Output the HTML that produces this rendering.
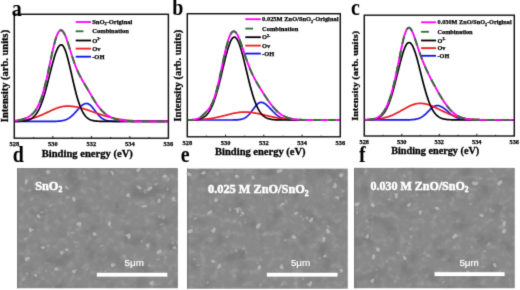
<!DOCTYPE html>
<html><head><meta charset="utf-8"><title>XPS and SEM</title>
<style>
html,body{margin:0;padding:0;background:#fff;}
body{width:520px;height:290px;overflow:hidden;}
svg{display:block;}
text{font-family:"Liberation Serif", "Times New Roman", serif;font-weight:bold;}
.th{stroke:#000;stroke-width:0.25px;}
.th2{stroke:#000;stroke-width:0.3px;}
.thw{stroke:#fff;stroke-width:0.45px;}
.sans{font-family:"Liberation Sans", Arial, sans-serif;font-weight:normal;}
</style></head><body>
<svg width="520" height="290" viewBox="0 0 520 290">
<defs><filter id="soft" x="0" y="0" width="520" height="290" filterUnits="userSpaceOnUse"><feConvolveMatrix order="3" kernelMatrix="0.0144 0.0912 0.0144 0.0912 0.5776 0.0912 0.0144 0.0912 0.0144" edgeMode="duplicate" preserveAlpha="false"/></filter></defs>
<rect width="520" height="290" fill="#fff"/>
<g filter="url(#soft)">

<g><path d="M14.8,121.40 L15.3,121.40 L15.8,121.40 L16.3,121.40 L16.8,121.40 L17.3,121.40 L17.8,121.40 L18.3,121.40 L18.8,121.40 L19.3,121.40 L19.8,121.40 L20.3,121.40 L20.8,121.40 L21.3,121.40 L21.8,121.40 L22.3,121.40 L22.8,121.40 L23.3,121.40 L23.8,121.40 L24.3,121.40 L24.8,121.40 L25.3,121.40 L25.8,121.40 L26.3,121.40 L26.8,121.40 L27.3,121.40 L27.8,121.40 L28.3,121.40 L28.8,121.40 L29.3,121.40 L29.8,121.40 L30.3,121.40 L30.8,121.40 L31.3,121.40 L31.8,121.40 L32.3,121.40 L32.8,121.40 L33.3,121.40 L33.8,121.40 L34.3,121.40 L34.8,121.40 L35.3,121.40 L35.8,121.40 L36.3,121.40 L36.8,121.40 L37.3,121.40 L37.8,121.40 L38.3,121.40 L38.8,121.40 L39.3,121.40 L39.8,121.40 L40.3,121.40 L40.8,121.40 L41.3,121.40 L41.8,121.40 L42.3,121.40 L42.8,121.40 L43.3,121.40 L43.8,121.40 L44.3,121.40 L44.8,121.40 L45.3,121.40 L45.8,121.40 L46.3,121.40 L46.8,121.40 L47.3,121.40 L47.8,121.40 L48.3,121.39 L48.8,121.39 L49.3,121.39 L49.8,121.39 L50.3,121.39 L50.8,121.38 L51.3,121.38 L51.8,121.38 L52.3,121.37 L52.8,121.36 L53.3,121.36 L53.8,121.35 L54.3,121.34 L54.8,121.33 L55.3,121.31 L55.8,121.30 L56.3,121.28 L56.8,121.26 L57.3,121.23 L57.8,121.20 L58.3,121.17 L58.8,121.13 L59.3,121.09 L59.8,121.04 L60.3,120.98 L60.8,120.92 L61.3,120.85 L61.8,120.77 L62.3,120.68 L62.8,120.58 L63.3,120.46 L63.8,120.34 L64.3,120.20 L64.8,120.04 L65.3,119.88 L65.8,119.69 L66.3,119.49 L66.8,119.27 L67.3,119.03 L67.8,118.77 L68.3,118.49 L68.8,118.19 L69.3,117.87 L69.8,117.52 L70.3,117.16 L70.8,116.77 L71.3,116.36 L71.8,115.93 L72.3,115.48 L72.8,115.01 L73.3,114.52 L73.8,114.02 L74.3,113.50 L74.8,112.96 L75.3,112.42 L75.8,111.86 L76.3,111.30 L76.8,110.73 L77.3,110.16 L77.8,109.60 L78.3,109.03 L78.8,108.48 L79.3,107.94 L79.8,107.42 L80.3,106.91 L80.8,106.43 L81.3,105.97 L81.8,105.55 L82.3,105.15 L82.8,104.80 L83.3,104.47 L83.8,104.20 L84.3,103.96 L84.8,103.77 L85.3,103.62 L85.8,103.52 L86.3,103.48 L86.8,103.48 L87.3,103.54 L87.8,103.67 L88.3,103.87 L88.8,104.12 L89.3,104.43 L89.8,104.80 L90.3,105.21 L90.8,105.68 L91.3,106.18 L91.8,106.73 L92.3,107.30 L92.8,107.91 L93.3,108.53 L93.8,109.17 L94.3,109.82 L94.8,110.47 L95.3,111.13 L95.8,111.78 L96.3,112.42 L96.8,113.05 L97.3,113.67 L97.8,114.26 L98.3,114.83 L98.8,115.38 L99.3,115.91 L99.8,116.40 L100.3,116.87 L100.8,117.31 L101.3,117.72 L101.8,118.10 L102.3,118.45 L102.8,118.77 L103.3,119.07 L103.8,119.34 L104.3,119.59 L104.8,119.81 L105.3,120.01 L105.8,120.19 L106.3,120.35 L106.8,120.49 L107.3,120.62 L107.8,120.73 L108.3,120.83 L108.8,120.91 L109.3,120.98 L109.8,121.05 L110.3,121.10 L110.8,121.15 L111.3,121.19 L111.8,121.23 L112.3,121.26 L112.8,121.28 L113.3,121.30 L113.8,121.32 L114.3,121.33 L114.8,121.35 L115.3,121.36 L115.8,121.36 L116.3,121.37 L116.8,121.38 L117.3,121.38 L117.8,121.39 L118.3,121.39 L118.8,121.39 L119.3,121.39 L119.8,121.39 L120.3,121.40 L120.8,121.40 L121.3,121.40 L121.8,121.40 L122.3,121.40 L122.8,121.40 L123.3,121.40 L123.8,121.40 L124.3,121.40 L124.8,121.40 L125.3,121.40 L125.8,121.40 L126.3,121.40 L126.8,121.40 L127.3,121.40 L127.8,121.40 L128.3,121.40 L128.8,121.40 L129.3,121.40 L129.8,121.40 L130.3,121.40 L130.8,121.40 L131.3,121.40 L131.8,121.40 L132.3,121.40 L132.8,121.40 L133.3,121.40 L133.8,121.40 L134.3,121.40 L134.8,121.40 L135.3,121.40 L135.8,121.40 L136.3,121.40 L136.8,121.40 L137.3,121.40 L137.8,121.40 L138.3,121.40 L138.8,121.40 L139.3,121.40 L139.8,121.40 L140.3,121.40 L140.8,121.40 L141.3,121.40 L141.8,121.40 L142.3,121.40 L142.8,121.40 L143.3,121.40 L143.8,121.40 L144.3,121.40 L144.8,121.40 L145.3,121.40 L145.8,121.40 L146.3,121.40 L146.8,121.40 L147.3,121.40 L147.8,121.40 L148.3,121.40 L148.8,121.40 L149.3,121.40 L149.8,121.40 L150.3,121.40 L150.8,121.40 L151.3,121.40 L151.8,121.40 L152.3,121.40 L152.8,121.40 L153.3,121.40 L153.8,121.40 L154.3,121.40 L154.8,121.40 L155.3,121.40 L155.8,121.40 L156.3,121.40 L156.8,121.40 L157.3,121.40 L157.8,121.40 L158.3,121.40 L158.8,121.40 L159.3,121.40 L159.8,121.40 L160.3,121.40 L160.8,121.40 L161.3,121.40 L161.8,121.40 L162.3,121.40 L162.8,121.40 L163.3,121.40 L163.8,121.40 L164.3,121.40 L164.8,121.40 L165.3,121.40 L165.8,121.40 L166.3,121.40 L166.8,121.40 L167.3,121.40 L167.8,121.40" fill="none" stroke="#1414e0" stroke-width="1.7"/>
<path d="M14.8,120.99 L15.3,120.97 L15.8,120.94 L16.3,120.90 L16.8,120.87 L17.3,120.83 L17.8,120.79 L18.3,120.75 L18.8,120.71 L19.3,120.67 L19.8,120.62 L20.3,120.57 L20.8,120.51 L21.3,120.46 L21.8,120.40 L22.3,120.34 L22.8,120.27 L23.3,120.21 L23.8,120.14 L24.3,120.06 L24.8,119.98 L25.3,119.90 L25.8,119.82 L26.3,119.73 L26.8,119.64 L27.3,119.54 L27.8,119.44 L28.3,119.34 L28.8,119.23 L29.3,119.12 L29.8,119.00 L30.3,118.88 L30.8,118.76 L31.3,118.63 L31.8,118.50 L32.3,118.36 L32.8,118.22 L33.3,118.07 L33.8,117.92 L34.3,117.76 L34.8,117.60 L35.3,117.44 L35.8,117.27 L36.3,117.09 L36.8,116.92 L37.3,116.73 L37.8,116.55 L38.3,116.36 L38.8,116.16 L39.3,115.96 L39.8,115.76 L40.3,115.55 L40.8,115.34 L41.3,115.13 L41.8,114.92 L42.3,114.70 L42.8,114.47 L43.3,114.25 L43.8,114.02 L44.3,113.79 L44.8,113.56 L45.3,113.33 L45.8,113.09 L46.3,112.86 L46.8,112.62 L47.3,112.38 L47.8,112.14 L48.3,111.91 L48.8,111.67 L49.3,111.43 L49.8,111.20 L50.3,110.96 L50.8,110.73 L51.3,110.50 L51.8,110.27 L52.3,110.04 L52.8,109.82 L53.3,109.60 L53.8,109.38 L54.3,109.17 L54.8,108.96 L55.3,108.76 L55.8,108.56 L56.3,108.37 L56.8,108.18 L57.3,108.00 L57.8,107.83 L58.3,107.66 L58.8,107.50 L59.3,107.35 L59.8,107.20 L60.3,107.07 L60.8,106.94 L61.3,106.82 L61.8,106.71 L62.3,106.60 L62.8,106.51 L63.3,106.43 L63.8,106.35 L64.3,106.29 L64.8,106.23 L65.3,106.18 L65.8,106.15 L66.3,106.12 L66.8,106.11 L67.3,106.10 L67.8,106.10 L68.3,106.11 L68.8,106.12 L69.3,106.14 L69.8,106.17 L70.3,106.20 L70.8,106.23 L71.3,106.27 L71.8,106.32 L72.3,106.37 L72.8,106.42 L73.3,106.49 L73.8,106.55 L74.3,106.62 L74.8,106.70 L75.3,106.78 L75.8,106.87 L76.3,106.96 L76.8,107.06 L77.3,107.16 L77.8,107.26 L78.3,107.37 L78.8,107.48 L79.3,107.60 L79.8,107.72 L80.3,107.84 L80.8,107.97 L81.3,108.10 L81.8,108.24 L82.3,108.38 L82.8,108.52 L83.3,108.67 L83.8,108.81 L84.3,108.97 L84.8,109.12 L85.3,109.27 L85.8,109.43 L86.3,109.59 L86.8,109.76 L87.3,109.92 L87.8,110.09 L88.3,110.25 L88.8,110.42 L89.3,110.59 L89.8,110.77 L90.3,110.94 L90.8,111.11 L91.3,111.29 L91.8,111.46 L92.3,111.64 L92.8,111.81 L93.3,111.99 L93.8,112.17 L94.3,112.34 L94.8,112.52 L95.3,112.69 L95.8,112.87 L96.3,113.04 L96.8,113.22 L97.3,113.39 L97.8,113.56 L98.3,113.74 L98.8,113.91 L99.3,114.08 L99.8,114.24 L100.3,114.41 L100.8,114.58 L101.3,114.74 L101.8,114.90 L102.3,115.06 L102.8,115.22 L103.3,115.38 L103.8,115.54 L104.3,115.69 L104.8,115.84 L105.3,115.99 L105.8,116.14 L106.3,116.28 L106.8,116.42 L107.3,116.56 L107.8,116.70 L108.3,116.84 L108.8,116.97 L109.3,117.10 L109.8,117.23 L110.3,117.36 L110.8,117.48 L111.3,117.61 L111.8,117.72 L112.3,117.84 L112.8,117.96 L113.3,118.07 L113.8,118.18 L114.3,118.28 L114.8,118.39 L115.3,118.49 L115.8,118.59 L116.3,118.69 L116.8,118.78 L117.3,118.87 L117.8,118.96 L118.3,119.05 L118.8,119.14 L119.3,119.22 L119.8,119.30 L120.3,119.38 L120.8,119.45 L121.3,119.53 L121.8,119.60 L122.3,119.67 L122.8,119.74 L123.3,119.80 L123.8,119.87 L124.3,119.93 L124.8,119.99 L125.3,120.04 L125.8,120.10 L126.3,120.15 L126.8,120.21 L127.3,120.26 L127.8,120.31 L128.3,120.35 L128.8,120.40 L129.3,120.44 L129.8,120.48 L130.3,120.52 L130.8,120.56 L131.3,120.60 L131.8,120.64 L132.3,120.67 L132.8,120.71 L133.3,120.74 L133.8,120.77 L134.3,120.80 L134.8,120.83 L135.3,120.85 L135.8,120.88 L136.3,120.91 L136.8,120.93 L137.3,120.95 L137.8,120.97 L138.3,121.00 L138.8,121.02 L139.3,121.04 L139.8,121.05 L140.3,121.07 L140.8,121.09 L141.3,121.10 L141.8,121.12 L142.3,121.13 L142.8,121.15 L143.3,121.16 L143.8,121.17 L144.3,121.19 L144.8,121.20 L145.3,121.21 L145.8,121.22 L146.3,121.23 L146.8,121.24 L147.3,121.25 L147.8,121.26 L148.3,121.26 L148.8,121.27 L149.3,121.28 L149.8,121.29 L150.3,121.29 L150.8,121.30 L151.3,121.31 L151.8,121.31 L152.3,121.32 L152.8,121.32 L153.3,121.33 L153.8,121.33 L154.3,121.33 L154.8,121.34 L155.3,121.34 L155.8,121.35 L156.3,121.35 L156.8,121.35 L157.3,121.36 L157.8,121.36 L158.3,121.36 L158.8,121.36 L159.3,121.37 L159.8,121.37 L160.3,121.37 L160.8,121.37 L161.3,121.37 L161.8,121.38 L162.3,121.38 L162.8,121.38 L163.3,121.38 L163.8,121.38 L164.3,121.38 L164.8,121.38 L165.3,121.38 L165.8,121.39 L166.3,121.39 L166.8,121.39 L167.3,121.39 L167.8,121.39" fill="none" stroke="#e81c1c" stroke-width="1.7"/>
<path d="M14.8,121.37 L15.3,121.37 L15.8,121.36 L16.3,121.36 L16.8,121.35 L17.3,121.34 L17.8,121.33 L18.3,121.32 L18.8,121.30 L19.3,121.29 L19.8,121.27 L20.3,121.25 L20.8,121.22 L21.3,121.19 L21.8,121.16 L22.3,121.12 L22.8,121.08 L23.3,121.03 L23.8,120.98 L24.3,120.91 L24.8,120.84 L25.3,120.76 L25.8,120.67 L26.3,120.57 L26.8,120.46 L27.3,120.33 L27.8,120.19 L28.3,120.03 L28.8,119.85 L29.3,119.65 L29.8,119.44 L30.3,119.20 L30.8,118.93 L31.3,118.64 L31.8,118.31 L32.3,117.96 L32.8,117.57 L33.3,117.15 L33.8,116.69 L34.3,116.19 L34.8,115.65 L35.3,115.07 L35.8,114.43 L36.3,113.75 L36.8,113.02 L37.3,112.23 L37.8,111.39 L38.3,110.49 L38.8,109.53 L39.3,108.51 L39.8,107.43 L40.3,106.29 L40.8,105.08 L41.3,103.81 L41.8,102.48 L42.3,101.09 L42.8,99.63 L43.3,98.11 L43.8,96.53 L44.3,94.90 L44.8,93.20 L45.3,91.46 L45.8,89.67 L46.3,87.83 L46.8,85.95 L47.3,84.04 L47.8,82.09 L48.3,80.13 L48.8,78.14 L49.3,76.14 L49.8,74.14 L50.3,72.14 L50.8,70.15 L51.3,68.18 L51.8,66.24 L52.3,64.33 L52.8,62.47 L53.3,60.65 L53.8,58.90 L54.3,57.22 L54.8,55.61 L55.3,54.09 L55.8,52.67 L56.3,51.34 L56.8,50.12 L57.3,49.01 L57.8,48.02 L58.3,47.16 L58.8,46.42 L59.3,45.82 L59.8,45.36 L60.3,45.03 L60.8,44.85 L61.3,44.80 L61.8,44.92 L62.3,45.22 L62.8,45.68 L63.3,46.32 L63.8,47.11 L64.3,48.07 L64.8,49.17 L65.3,50.42 L65.8,51.81 L66.3,53.32 L66.8,54.95 L67.3,56.69 L67.8,58.53 L68.3,60.45 L68.8,62.45 L69.3,64.51 L69.8,66.63 L70.3,68.78 L70.8,70.97 L71.3,73.17 L71.8,75.38 L72.3,77.59 L72.8,79.79 L73.3,81.97 L73.8,84.11 L74.3,86.23 L74.8,88.29 L75.3,90.31 L75.8,92.27 L76.3,94.16 L76.8,96.00 L77.3,97.76 L77.8,99.45 L78.3,101.06 L78.8,102.60 L79.3,104.06 L79.8,105.45 L80.3,106.75 L80.8,107.98 L81.3,109.14 L81.8,110.22 L82.3,111.23 L82.8,112.17 L83.3,113.04 L83.8,113.84 L84.3,114.59 L84.8,115.27 L85.3,115.90 L85.8,116.48 L86.3,117.00 L86.8,117.48 L87.3,117.91 L87.8,118.31 L88.3,118.66 L88.8,118.98 L89.3,119.27 L89.8,119.52 L90.3,119.75 L90.8,119.96 L91.3,120.14 L91.8,120.30 L92.3,120.45 L92.8,120.57 L93.3,120.68 L93.8,120.78 L94.3,120.87 L94.8,120.94 L95.3,121.01 L95.8,121.06 L96.3,121.11 L96.8,121.16 L97.3,121.19 L97.8,121.22 L98.3,121.25 L98.8,121.27 L99.3,121.29 L99.8,121.31 L100.3,121.33 L100.8,121.34 L101.3,121.35 L101.8,121.36 L102.3,121.36 L102.8,121.37 L103.3,121.38 L103.8,121.38 L104.3,121.38 L104.8,121.39 L105.3,121.39 L105.8,121.39 L106.3,121.39 L106.8,121.39 L107.3,121.40 L107.8,121.40 L108.3,121.40 L108.8,121.40 L109.3,121.40 L109.8,121.40 L110.3,121.40 L110.8,121.40 L111.3,121.40 L111.8,121.40 L112.3,121.40 L112.8,121.40 L113.3,121.40 L113.8,121.40 L114.3,121.40 L114.8,121.40 L115.3,121.40 L115.8,121.40 L116.3,121.40 L116.8,121.40 L117.3,121.40 L117.8,121.40 L118.3,121.40 L118.8,121.40 L119.3,121.40 L119.8,121.40 L120.3,121.40 L120.8,121.40 L121.3,121.40 L121.8,121.40 L122.3,121.40 L122.8,121.40 L123.3,121.40 L123.8,121.40 L124.3,121.40 L124.8,121.40 L125.3,121.40 L125.8,121.40 L126.3,121.40 L126.8,121.40 L127.3,121.40 L127.8,121.40 L128.3,121.40 L128.8,121.40 L129.3,121.40 L129.8,121.40 L130.3,121.40 L130.8,121.40 L131.3,121.40 L131.8,121.40 L132.3,121.40 L132.8,121.40 L133.3,121.40 L133.8,121.40 L134.3,121.40 L134.8,121.40 L135.3,121.40 L135.8,121.40 L136.3,121.40 L136.8,121.40 L137.3,121.40 L137.8,121.40 L138.3,121.40 L138.8,121.40 L139.3,121.40 L139.8,121.40 L140.3,121.40 L140.8,121.40 L141.3,121.40 L141.8,121.40 L142.3,121.40 L142.8,121.40 L143.3,121.40 L143.8,121.40 L144.3,121.40 L144.8,121.40 L145.3,121.40 L145.8,121.40 L146.3,121.40 L146.8,121.40 L147.3,121.40 L147.8,121.40 L148.3,121.40 L148.8,121.40 L149.3,121.40 L149.8,121.40 L150.3,121.40 L150.8,121.40 L151.3,121.40 L151.8,121.40 L152.3,121.40 L152.8,121.40 L153.3,121.40 L153.8,121.40 L154.3,121.40 L154.8,121.40 L155.3,121.40 L155.8,121.40 L156.3,121.40 L156.8,121.40 L157.3,121.40 L157.8,121.40 L158.3,121.40 L158.8,121.40 L159.3,121.40 L159.8,121.40 L160.3,121.40 L160.8,121.40 L161.3,121.40 L161.8,121.40 L162.3,121.40 L162.8,121.40 L163.3,121.40 L163.8,121.40 L164.3,121.40 L164.8,121.40 L165.3,121.40 L165.8,121.40 L166.3,121.40 L166.8,121.40 L167.3,121.40 L167.8,121.40" fill="none" stroke="#000" stroke-width="1.7"/>
<path d="M14.8,120.71 L15.3,120.65 L15.8,120.60 L16.3,120.53 L16.8,120.47 L17.3,120.40 L17.8,120.32 L18.3,120.24 L18.8,120.16 L19.3,120.06 L19.8,119.97 L20.3,119.86 L20.8,119.75 L21.3,119.64 L21.8,119.51 L22.3,119.38 L22.8,119.24 L23.3,119.09 L23.8,118.94 L24.3,118.77 L24.8,118.59 L25.3,118.40 L25.8,118.20 L26.3,117.99 L26.8,117.76 L27.3,117.52 L27.8,117.26 L28.3,116.99 L28.8,116.70 L29.3,116.40 L29.8,116.07 L30.3,115.72 L30.8,115.34 L31.3,114.95 L31.8,114.52 L32.3,114.07 L32.8,113.59 L33.3,113.07 L33.8,112.52 L34.3,111.93 L34.8,111.30 L35.3,110.63 L35.8,109.92 L36.3,109.15 L36.8,108.34 L37.3,107.47 L37.8,106.54 L38.3,105.55 L38.8,104.50 L39.3,103.39 L39.8,102.21 L40.3,100.96 L40.8,99.63 L41.3,98.24 L41.8,96.76 L42.3,95.22 L42.8,93.59 L43.3,91.89 L43.8,90.11 L44.3,88.26 L44.8,86.34 L45.3,84.35 L45.8,82.29 L46.3,80.17 L46.8,77.99 L47.3,75.76 L47.8,73.48 L48.3,71.17 L48.8,68.82 L49.3,66.46 L49.8,64.08 L50.3,61.70 L50.8,59.34 L51.3,56.99 L51.8,54.67 L52.3,52.40 L52.8,50.18 L53.3,48.03 L53.8,45.95 L54.3,43.96 L54.8,42.08 L55.3,40.30 L55.8,38.65 L56.3,37.12 L56.8,35.73 L57.3,34.49 L57.8,33.40 L58.3,32.46 L58.8,31.69 L59.3,31.08 L59.8,30.63 L60.3,30.34 L60.8,30.22 L61.3,30.26 L61.8,30.46 L62.3,30.81 L62.8,31.31 L63.3,31.95 L63.8,32.72 L64.3,33.62 L64.8,34.63 L65.3,35.74 L65.8,36.96 L66.3,38.26 L66.8,39.63 L67.3,41.07 L67.8,42.56 L68.3,44.10 L68.8,45.66 L69.3,47.25 L69.8,48.86 L70.3,50.47 L70.8,52.08 L71.3,53.68 L71.8,55.26 L72.3,56.82 L72.8,58.35 L73.3,59.84 L73.8,61.30 L74.3,62.72 L74.8,64.10 L75.3,65.44 L75.8,66.73 L76.3,67.98 L76.8,69.19 L77.3,70.35 L77.8,71.47 L78.3,72.56 L78.8,73.60 L79.3,74.62 L79.8,75.60 L80.3,76.56 L80.8,77.49 L81.3,78.40 L81.8,79.29 L82.3,80.16 L82.8,81.03 L83.3,81.88 L83.8,82.73 L84.3,83.57 L84.8,84.41 L85.3,85.25 L85.8,86.09 L86.3,86.94 L86.8,87.78 L87.3,88.63 L87.8,89.48 L88.3,90.34 L88.8,91.19 L89.3,92.05 L89.8,92.91 L90.3,93.77 L90.8,94.63 L91.3,95.49 L91.8,96.34 L92.3,97.19 L92.8,98.03 L93.3,98.86 L93.8,99.68 L94.3,100.48 L94.8,101.28 L95.3,102.06 L95.8,102.83 L96.3,103.58 L96.8,104.31 L97.3,105.02 L97.8,105.71 L98.3,106.39 L98.8,107.04 L99.3,107.68 L99.8,108.29 L100.3,108.89 L100.8,109.46 L101.3,110.01 L101.8,110.55 L102.3,111.06 L102.8,111.56 L103.3,112.03 L103.8,112.49 L104.3,112.93 L104.8,113.35 L105.3,113.75 L105.8,114.14 L106.3,114.51 L106.8,114.87 L107.3,115.21 L107.8,115.54 L108.3,115.85 L108.8,116.15 L109.3,116.43 L109.8,116.70 L110.3,116.96 L110.8,117.21 L111.3,117.45 L111.8,117.67 L112.3,117.89 L112.8,118.09 L113.3,118.29 L113.8,118.47 L114.3,118.65 L114.8,118.82 L115.3,118.97 L115.8,119.13 L116.3,119.27 L116.8,119.40 L117.3,119.53 L117.8,119.65 L118.3,119.76 L118.8,119.87 L119.3,119.97 L119.8,120.07 L120.3,120.16 L120.8,120.24 L121.3,120.32 L121.8,120.40 L122.3,120.47 L122.8,120.53 L123.3,120.60 L123.8,120.65 L124.3,120.71 L124.8,120.76 L125.3,120.81 L125.8,120.85 L126.3,120.89 L126.8,120.93 L127.3,120.97 L127.8,121.00 L128.3,121.03 L128.8,121.06 L129.3,121.09 L129.8,121.11 L130.3,121.14 L130.8,121.16 L131.3,121.18 L131.8,121.20 L132.3,121.21 L132.8,121.23 L133.3,121.24 L133.8,121.26 L134.3,121.27 L134.8,121.28 L135.3,121.29 L135.8,121.30 L136.3,121.31 L136.8,121.32 L137.3,121.32 L137.8,121.33 L138.3,121.34 L138.8,121.34 L139.3,121.35 L139.8,121.35 L140.3,121.36 L140.8,121.36 L141.3,121.36 L141.8,121.37 L142.3,121.37 L142.8,121.37 L143.3,121.38 L143.8,121.38 L144.3,121.38 L144.8,121.38 L145.3,121.38 L145.8,121.39 L146.3,121.39 L146.8,121.39 L147.3,121.39 L147.8,121.39 L148.3,121.39 L148.8,121.39 L149.3,121.39 L149.8,121.39 L150.3,121.39 L150.8,121.40 L151.3,121.40 L151.8,121.40 L152.3,121.40 L152.8,121.40 L153.3,121.40 L153.8,121.40 L154.3,121.40 L154.8,121.40 L155.3,121.40 L155.8,121.40 L156.3,121.40 L156.8,121.40 L157.3,121.40 L157.8,121.40 L158.3,121.40 L158.8,121.40 L159.3,121.40 L159.8,121.40 L160.3,121.40 L160.8,121.40 L161.3,121.40 L161.8,121.40 L162.3,121.40 L162.8,121.40 L163.3,121.40 L163.8,121.40 L164.3,121.40 L164.8,121.40 L165.3,121.40 L165.8,121.40 L166.3,121.40 L166.8,121.40 L167.3,121.40 L167.8,121.40" fill="none" stroke="#ff00ff" stroke-width="1.9"/>
<path d="M14.8,120.71 L15.3,120.65 L15.8,120.60 L16.3,120.53 L16.8,120.47 L17.3,120.40 L17.8,120.32 L18.3,120.24 L18.8,120.16 L19.3,120.06 L19.8,119.97 L20.3,119.86 L20.8,119.75 L21.3,119.64 L21.8,119.51 L22.3,119.38 L22.8,119.24 L23.3,119.09 L23.8,118.94 L24.3,118.77 L24.8,118.59 L25.3,118.40 L25.8,118.20 L26.3,117.99 L26.8,117.76 L27.3,117.52 L27.8,117.26 L28.3,116.99 L28.8,116.70 L29.3,116.40 L29.8,116.07 L30.3,115.72 L30.8,115.34 L31.3,114.95 L31.8,114.52 L32.3,114.07 L32.8,113.59 L33.3,113.07 L33.8,112.52 L34.3,111.93 L34.8,111.30 L35.3,110.63 L35.8,109.92 L36.3,109.15 L36.8,108.34 L37.3,107.47 L37.8,106.54 L38.3,105.55 L38.8,104.50 L39.3,103.39 L39.8,102.21 L40.3,100.96 L40.8,99.63 L41.3,98.24 L41.8,96.76 L42.3,95.22 L42.8,93.59 L43.3,91.89 L43.8,90.11 L44.3,88.26 L44.8,86.34 L45.3,84.35 L45.8,82.29 L46.3,80.17 L46.8,77.99 L47.3,75.76 L47.8,73.48 L48.3,71.17 L48.8,68.82 L49.3,66.46 L49.8,64.08 L50.3,61.70 L50.8,59.34 L51.3,56.99 L51.8,54.67 L52.3,52.40 L52.8,50.18 L53.3,48.03 L53.8,45.95 L54.3,43.96 L54.8,42.08 L55.3,40.30 L55.8,38.65 L56.3,37.12 L56.8,35.73 L57.3,34.49 L57.8,33.40 L58.3,32.46 L58.8,31.69 L59.3,31.08 L59.8,30.63 L60.3,30.34 L60.8,30.22 L61.3,30.26 L61.8,30.46 L62.3,30.81 L62.8,31.31 L63.3,31.95 L63.8,32.72 L64.3,33.62 L64.8,34.63 L65.3,35.74 L65.8,36.96 L66.3,38.26 L66.8,39.63 L67.3,41.07 L67.8,42.56 L68.3,44.10 L68.8,45.66 L69.3,47.25 L69.8,48.86 L70.3,50.47 L70.8,52.08 L71.3,53.68 L71.8,55.26 L72.3,56.82 L72.8,58.35 L73.3,59.84 L73.8,61.30 L74.3,62.72 L74.8,64.10 L75.3,65.44 L75.8,66.73 L76.3,67.98 L76.8,69.19 L77.3,70.35 L77.8,71.47 L78.3,72.56 L78.8,73.60 L79.3,74.62 L79.8,75.60 L80.3,76.56 L80.8,77.49 L81.3,78.40 L81.8,79.29 L82.3,80.16 L82.8,81.03 L83.3,81.88 L83.8,82.73 L84.3,83.57 L84.8,84.41 L85.3,85.25 L85.8,86.09 L86.3,86.94 L86.8,87.78 L87.3,88.63 L87.8,89.48 L88.3,90.34 L88.8,91.19 L89.3,92.05 L89.8,92.91 L90.3,93.77 L90.8,94.63 L91.3,95.49 L91.8,96.34 L92.3,97.19 L92.8,98.03 L93.3,98.86 L93.8,99.68 L94.3,100.48 L94.8,101.28 L95.3,102.06 L95.8,102.83 L96.3,103.58 L96.8,104.31 L97.3,105.02 L97.8,105.71 L98.3,106.39 L98.8,107.04 L99.3,107.68 L99.8,108.29 L100.3,108.89 L100.8,109.46 L101.3,110.01 L101.8,110.55 L102.3,111.06 L102.8,111.56 L103.3,112.03 L103.8,112.49 L104.3,112.93 L104.8,113.35 L105.3,113.75 L105.8,114.14 L106.3,114.51 L106.8,114.87 L107.3,115.21 L107.8,115.54 L108.3,115.85 L108.8,116.15 L109.3,116.43 L109.8,116.70 L110.3,116.96 L110.8,117.21 L111.3,117.45 L111.8,117.67 L112.3,117.89 L112.8,118.09 L113.3,118.29 L113.8,118.47 L114.3,118.65 L114.8,118.82 L115.3,118.97 L115.8,119.13 L116.3,119.27 L116.8,119.40 L117.3,119.53 L117.8,119.65 L118.3,119.76 L118.8,119.87 L119.3,119.97 L119.8,120.07 L120.3,120.16 L120.8,120.24 L121.3,120.32 L121.8,120.40 L122.3,120.47 L122.8,120.53 L123.3,120.60 L123.8,120.65 L124.3,120.71 L124.8,120.76 L125.3,120.81 L125.8,120.85 L126.3,120.89 L126.8,120.93 L127.3,120.97 L127.8,121.00 L128.3,121.03 L128.8,121.06 L129.3,121.09 L129.8,121.11 L130.3,121.14 L130.8,121.16 L131.3,121.18 L131.8,121.20 L132.3,121.21 L132.8,121.23 L133.3,121.24 L133.8,121.26 L134.3,121.27 L134.8,121.28 L135.3,121.29 L135.8,121.30 L136.3,121.31 L136.8,121.32 L137.3,121.32 L137.8,121.33 L138.3,121.34 L138.8,121.34 L139.3,121.35 L139.8,121.35 L140.3,121.36 L140.8,121.36 L141.3,121.36 L141.8,121.37 L142.3,121.37 L142.8,121.37 L143.3,121.38 L143.8,121.38 L144.3,121.38 L144.8,121.38 L145.3,121.38 L145.8,121.39 L146.3,121.39 L146.8,121.39 L147.3,121.39 L147.8,121.39 L148.3,121.39 L148.8,121.39 L149.3,121.39 L149.8,121.39 L150.3,121.39 L150.8,121.40 L151.3,121.40 L151.8,121.40 L152.3,121.40 L152.8,121.40 L153.3,121.40 L153.8,121.40 L154.3,121.40 L154.8,121.40 L155.3,121.40 L155.8,121.40 L156.3,121.40 L156.8,121.40 L157.3,121.40 L157.8,121.40 L158.3,121.40 L158.8,121.40 L159.3,121.40 L159.8,121.40 L160.3,121.40 L160.8,121.40 L161.3,121.40 L161.8,121.40 L162.3,121.40 L162.8,121.40 L163.3,121.40 L163.8,121.40 L164.3,121.40 L164.8,121.40 L165.3,121.40 L165.8,121.40 L166.3,121.40 L166.8,121.40 L167.3,121.40 L167.8,121.40" fill="none" stroke="#306c30" stroke-width="1.9" stroke-dasharray="8.5 6.5" stroke-dashoffset="12.5"/>
<rect x="14.3" y="14.3" width="154.1" height="123.89999999999999" fill="none" stroke="#111" stroke-width="1.4"/>
<line x1="14.30" y1="138.2" x2="14.30" y2="136.0" stroke="#222" stroke-width="1"/>
<text class="th" x="14.30" y="146" font-size="6.4" text-anchor="middle">528</text>
<line x1="33.56" y1="138.2" x2="33.56" y2="137.0" stroke="#222" stroke-width="1"/>
<line x1="52.83" y1="138.2" x2="52.83" y2="136.0" stroke="#222" stroke-width="1"/>
<text class="th" x="52.83" y="146" font-size="6.4" text-anchor="middle">530</text>
<line x1="72.09" y1="138.2" x2="72.09" y2="137.0" stroke="#222" stroke-width="1"/>
<line x1="91.35" y1="138.2" x2="91.35" y2="136.0" stroke="#222" stroke-width="1"/>
<text class="th" x="91.35" y="146" font-size="6.4" text-anchor="middle">532</text>
<line x1="110.61" y1="138.2" x2="110.61" y2="137.0" stroke="#222" stroke-width="1"/>
<line x1="129.88" y1="138.2" x2="129.88" y2="136.0" stroke="#222" stroke-width="1"/>
<text class="th" x="129.88" y="146" font-size="6.4" text-anchor="middle">534</text>
<line x1="149.14" y1="138.2" x2="149.14" y2="137.0" stroke="#222" stroke-width="1"/>
<line x1="168.40" y1="138.2" x2="168.40" y2="136.0" stroke="#222" stroke-width="1"/>
<text class="th" x="168.40" y="146" font-size="6.4" text-anchor="middle">536</text>
<text class="th2" transform="translate(41.7,156.5) scale(1,0.92)" font-size="10.6">Binding energy (eV)</text>
<text class="th2" transform="translate(7.6,76.0) rotate(-90) scale(1,0.9)" font-size="10.5" text-anchor="middle">Intensity (arb. units)</text>
<text transform="translate(11.8,15.5) scale(0.85,1)" font-size="23.5">a</text>
<line x1="75.7" y1="22.0" x2="91" y2="22.0" stroke="#ff00ff" stroke-width="1.8"/>
<line x1="75.7" y1="31.3" x2="83.5" y2="31.3" stroke="#2f6e2f" stroke-width="1.8"/>
<line x1="75.7" y1="40.5" x2="91" y2="40.5" stroke="#000" stroke-width="1.8"/>
<line x1="75.7" y1="48.6" x2="91" y2="48.6" stroke="#ee1a1a" stroke-width="1.8"/>
<line x1="75.7" y1="56.7" x2="91" y2="56.7" stroke="#1010ee" stroke-width="1.8"/>
<text class="th" x="92.2" y="24.16" font-size="6.55">SnO<tspan font-size="4.06" dy="1.2">2</tspan><tspan dy="-1.2">-Original</tspan></text>
<text class="th" x="92.2" y="33.46" font-size="6.55">Combination</text>
<text class="th" x="92.2" y="42.66" font-size="6.55">O<tspan font-size="4.06" dy="-2.2">2-</tspan></text>
<text class="th" x="92.2" y="50.76" font-size="6.55">Ov</text>
<text class="th" x="92.2" y="58.86" font-size="6.55">-OH</text></g>
<g><path d="M187.8,120.00 L188.3,120.00 L188.8,120.00 L189.3,120.00 L189.8,120.00 L190.3,120.00 L190.8,120.00 L191.3,120.00 L191.8,120.00 L192.3,120.00 L192.8,120.00 L193.3,120.00 L193.8,120.00 L194.3,120.00 L194.8,120.00 L195.3,120.00 L195.8,120.00 L196.3,120.00 L196.8,120.00 L197.3,120.00 L197.8,120.00 L198.3,120.00 L198.8,120.00 L199.3,120.00 L199.8,120.00 L200.3,120.00 L200.8,120.00 L201.3,120.00 L201.8,120.00 L202.3,120.00 L202.8,120.00 L203.3,120.00 L203.8,120.00 L204.3,120.00 L204.8,120.00 L205.3,120.00 L205.8,120.00 L206.3,120.00 L206.8,120.00 L207.3,120.00 L207.8,120.00 L208.3,120.00 L208.8,120.00 L209.3,120.00 L209.8,120.00 L210.3,120.00 L210.8,120.00 L211.3,120.00 L211.8,120.00 L212.3,120.00 L212.8,120.00 L213.3,120.00 L213.8,120.00 L214.3,120.00 L214.8,120.00 L215.3,120.00 L215.8,120.00 L216.3,120.00 L216.8,120.00 L217.3,120.00 L217.8,120.00 L218.3,120.00 L218.8,120.00 L219.3,120.00 L219.8,120.00 L220.3,120.00 L220.8,120.00 L221.3,120.00 L221.8,120.00 L222.3,120.00 L222.8,120.00 L223.3,120.00 L223.8,120.00 L224.3,120.00 L224.8,120.00 L225.3,120.00 L225.8,120.00 L226.3,120.00 L226.8,120.00 L227.3,120.00 L227.8,120.00 L228.3,120.00 L228.8,120.00 L229.3,120.00 L229.8,119.99 L230.3,119.99 L230.8,119.99 L231.3,119.99 L231.8,119.98 L232.3,119.98 L232.8,119.97 L233.3,119.97 L233.8,119.96 L234.3,119.95 L234.8,119.93 L235.3,119.92 L235.8,119.90 L236.3,119.88 L236.8,119.85 L237.3,119.82 L237.8,119.78 L238.3,119.74 L238.8,119.68 L239.3,119.62 L239.8,119.55 L240.3,119.46 L240.8,119.37 L241.3,119.25 L241.8,119.13 L242.3,118.98 L242.8,118.81 L243.3,118.62 L243.8,118.41 L244.3,118.18 L244.8,117.92 L245.3,117.63 L245.8,117.31 L246.3,116.96 L246.8,116.58 L247.3,116.16 L247.8,115.72 L248.3,115.24 L248.8,114.73 L249.3,114.19 L249.8,113.62 L250.3,113.03 L250.8,112.41 L251.3,111.77 L251.8,111.11 L252.3,110.43 L252.8,109.75 L253.3,109.07 L253.8,108.39 L254.3,107.71 L254.8,107.05 L255.3,106.41 L255.8,105.80 L256.3,105.21 L256.8,104.67 L257.3,104.18 L257.8,103.73 L258.3,103.34 L258.8,103.01 L259.3,102.75 L259.8,102.55 L260.3,102.42 L260.8,102.37 L261.3,102.37 L261.8,102.43 L262.3,102.52 L262.8,102.66 L263.3,102.84 L263.8,103.06 L264.3,103.32 L264.8,103.62 L265.3,103.95 L265.8,104.31 L266.3,104.70 L266.8,105.12 L267.3,105.57 L267.8,106.03 L268.3,106.52 L268.8,107.01 L269.3,107.53 L269.8,108.05 L270.3,108.57 L270.8,109.11 L271.3,109.64 L271.8,110.17 L272.3,110.69 L272.8,111.21 L273.3,111.73 L273.8,112.23 L274.3,112.72 L274.8,113.19 L275.3,113.65 L275.8,114.09 L276.3,114.52 L276.8,114.93 L277.3,115.32 L277.8,115.69 L278.3,116.04 L278.8,116.37 L279.3,116.68 L279.8,116.97 L280.3,117.24 L280.8,117.50 L281.3,117.74 L281.8,117.96 L282.3,118.16 L282.8,118.35 L283.3,118.52 L283.8,118.67 L284.3,118.82 L284.8,118.95 L285.3,119.07 L285.8,119.17 L286.3,119.27 L286.8,119.36 L287.3,119.44 L287.8,119.50 L288.3,119.57 L288.8,119.62 L289.3,119.67 L289.8,119.71 L290.3,119.75 L290.8,119.79 L291.3,119.82 L291.8,119.84 L292.3,119.86 L292.8,119.88 L293.3,119.90 L293.8,119.92 L294.3,119.93 L294.8,119.94 L295.3,119.95 L295.8,119.96 L296.3,119.96 L296.8,119.97 L297.3,119.97 L297.8,119.98 L298.3,119.98 L298.8,119.99 L299.3,119.99 L299.8,119.99 L300.3,119.99 L300.8,119.99 L301.3,119.99 L301.8,120.00 L302.3,120.00 L302.8,120.00 L303.3,120.00 L303.8,120.00 L304.3,120.00 L304.8,120.00 L305.3,120.00 L305.8,120.00 L306.3,120.00 L306.8,120.00 L307.3,120.00 L307.8,120.00 L308.3,120.00 L308.8,120.00 L309.3,120.00 L309.8,120.00 L310.3,120.00 L310.8,120.00 L311.3,120.00 L311.8,120.00 L312.3,120.00 L312.8,120.00 L313.3,120.00 L313.8,120.00 L314.3,120.00 L314.8,120.00 L315.3,120.00 L315.8,120.00 L316.3,120.00 L316.8,120.00 L317.3,120.00 L317.8,120.00 L318.3,120.00 L318.8,120.00 L319.3,120.00 L319.8,120.00 L320.3,120.00 L320.8,120.00 L321.3,120.00 L321.8,120.00 L322.3,120.00 L322.8,120.00 L323.3,120.00 L323.8,120.00 L324.3,120.00 L324.8,120.00 L325.3,120.00 L325.8,120.00 L326.3,120.00 L326.8,120.00 L327.3,120.00 L327.8,120.00 L328.3,120.00 L328.8,120.00 L329.3,120.00 L329.8,120.00 L330.3,120.00 L330.8,120.00 L331.3,120.00 L331.8,120.00 L332.3,120.00 L332.8,120.00 L333.3,120.00 L333.8,120.00 L334.3,120.00 L334.8,120.00 L335.3,120.00 L335.8,120.00 L336.3,120.00 L336.8,120.00 L337.3,120.00 L337.8,120.00 L338.3,120.00 L338.8,120.00 L339.3,120.00 L339.8,120.00" fill="none" stroke="#1414e0" stroke-width="1.7"/>
<path d="M187.8,119.92 L188.3,119.92 L188.8,119.91 L189.3,119.90 L189.8,119.90 L190.3,119.89 L190.8,119.88 L191.3,119.87 L191.8,119.86 L192.3,119.85 L192.8,119.83 L193.3,119.82 L193.8,119.81 L194.3,119.79 L194.8,119.78 L195.3,119.76 L195.8,119.74 L196.3,119.73 L196.8,119.71 L197.3,119.69 L197.8,119.66 L198.3,119.64 L198.8,119.62 L199.3,119.59 L199.8,119.56 L200.3,119.53 L200.8,119.50 L201.3,119.47 L201.8,119.44 L202.3,119.40 L202.8,119.36 L203.3,119.32 L203.8,119.28 L204.3,119.24 L204.8,119.19 L205.3,119.15 L205.8,119.10 L206.3,119.04 L206.8,118.99 L207.3,118.93 L207.8,118.88 L208.3,118.81 L208.8,118.75 L209.3,118.69 L209.8,118.62 L210.3,118.55 L210.8,118.47 L211.3,118.40 L211.8,118.32 L212.3,118.24 L212.8,118.15 L213.3,118.07 L213.8,117.98 L214.3,117.89 L214.8,117.80 L215.3,117.70 L215.8,117.60 L216.3,117.50 L216.8,117.40 L217.3,117.29 L217.8,117.18 L218.3,117.07 L218.8,116.96 L219.3,116.85 L219.8,116.73 L220.3,116.61 L220.8,116.49 L221.3,116.37 L221.8,116.25 L222.3,116.13 L222.8,116.00 L223.3,115.87 L223.8,115.75 L224.3,115.62 L224.8,115.49 L225.3,115.36 L225.8,115.23 L226.3,115.10 L226.8,114.97 L227.3,114.84 L227.8,114.71 L228.3,114.59 L228.8,114.46 L229.3,114.33 L229.8,114.21 L230.3,114.09 L230.8,113.97 L231.3,113.85 L231.8,113.73 L232.3,113.61 L232.8,113.50 L233.3,113.39 L233.8,113.29 L234.3,113.18 L234.8,113.08 L235.3,112.99 L235.8,112.89 L236.3,112.81 L236.8,112.72 L237.3,112.64 L237.8,112.57 L238.3,112.50 L238.8,112.43 L239.3,112.37 L239.8,112.31 L240.3,112.26 L240.8,112.22 L241.3,112.18 L241.8,112.14 L242.3,112.11 L242.8,112.09 L243.3,112.07 L243.8,112.06 L244.3,112.05 L244.8,112.05 L245.3,112.05 L245.8,112.06 L246.3,112.08 L246.8,112.09 L247.3,112.12 L247.8,112.14 L248.3,112.18 L248.8,112.21 L249.3,112.26 L249.8,112.30 L250.3,112.35 L250.8,112.41 L251.3,112.46 L251.8,112.53 L252.3,112.59 L252.8,112.66 L253.3,112.74 L253.8,112.82 L254.3,112.90 L254.8,112.98 L255.3,113.07 L255.8,113.16 L256.3,113.25 L256.8,113.35 L257.3,113.45 L257.8,113.55 L258.3,113.66 L258.8,113.76 L259.3,113.87 L259.8,113.98 L260.3,114.09 L260.8,114.20 L261.3,114.32 L261.8,114.43 L262.3,114.55 L262.8,114.66 L263.3,114.78 L263.8,114.90 L264.3,115.02 L264.8,115.14 L265.3,115.25 L265.8,115.37 L266.3,115.49 L266.8,115.61 L267.3,115.73 L267.8,115.84 L268.3,115.96 L268.8,116.07 L269.3,116.19 L269.8,116.30 L270.3,116.41 L270.8,116.52 L271.3,116.63 L271.8,116.74 L272.3,116.85 L272.8,116.95 L273.3,117.05 L273.8,117.15 L274.3,117.25 L274.8,117.35 L275.3,117.45 L275.8,117.54 L276.3,117.63 L276.8,117.72 L277.3,117.81 L277.8,117.89 L278.3,117.98 L278.8,118.06 L279.3,118.14 L279.8,118.22 L280.3,118.29 L280.8,118.36 L281.3,118.43 L281.8,118.50 L282.3,118.57 L282.8,118.63 L283.3,118.69 L283.8,118.75 L284.3,118.81 L284.8,118.87 L285.3,118.92 L285.8,118.97 L286.3,119.02 L286.8,119.07 L287.3,119.12 L287.8,119.16 L288.3,119.21 L288.8,119.25 L289.3,119.29 L289.8,119.32 L290.3,119.36 L290.8,119.39 L291.3,119.43 L291.8,119.46 L292.3,119.49 L292.8,119.52 L293.3,119.55 L293.8,119.57 L294.3,119.60 L294.8,119.62 L295.3,119.64 L295.8,119.66 L296.3,119.68 L296.8,119.70 L297.3,119.72 L297.8,119.74 L298.3,119.75 L298.8,119.77 L299.3,119.78 L299.8,119.80 L300.3,119.81 L300.8,119.82 L301.3,119.84 L301.8,119.85 L302.3,119.86 L302.8,119.87 L303.3,119.88 L303.8,119.88 L304.3,119.89 L304.8,119.90 L305.3,119.91 L305.8,119.91 L306.3,119.92 L306.8,119.93 L307.3,119.93 L307.8,119.94 L308.3,119.94 L308.8,119.95 L309.3,119.95 L309.8,119.95 L310.3,119.96 L310.8,119.96 L311.3,119.96 L311.8,119.97 L312.3,119.97 L312.8,119.97 L313.3,119.97 L313.8,119.98 L314.3,119.98 L314.8,119.98 L315.3,119.98 L315.8,119.98 L316.3,119.98 L316.8,119.99 L317.3,119.99 L317.8,119.99 L318.3,119.99 L318.8,119.99 L319.3,119.99 L319.8,119.99 L320.3,119.99 L320.8,119.99 L321.3,119.99 L321.8,119.99 L322.3,119.99 L322.8,120.00 L323.3,120.00 L323.8,120.00 L324.3,120.00 L324.8,120.00 L325.3,120.00 L325.8,120.00 L326.3,120.00 L326.8,120.00 L327.3,120.00 L327.8,120.00 L328.3,120.00 L328.8,120.00 L329.3,120.00 L329.8,120.00 L330.3,120.00 L330.8,120.00 L331.3,120.00 L331.8,120.00 L332.3,120.00 L332.8,120.00 L333.3,120.00 L333.8,120.00 L334.3,120.00 L334.8,120.00 L335.3,120.00 L335.8,120.00 L336.3,120.00 L336.8,120.00 L337.3,120.00 L337.8,120.00 L338.3,120.00 L338.8,120.00 L339.3,120.00 L339.8,120.00" fill="none" stroke="#e81c1c" stroke-width="1.7"/>
<path d="M187.8,119.97 L188.3,119.96 L188.8,119.95 L189.3,119.94 L189.8,119.93 L190.3,119.92 L190.8,119.91 L191.3,119.89 L191.8,119.88 L192.3,119.86 L192.8,119.83 L193.3,119.80 L193.8,119.77 L194.3,119.74 L194.8,119.70 L195.3,119.65 L195.8,119.60 L196.3,119.54 L196.8,119.48 L197.3,119.40 L197.8,119.32 L198.3,119.22 L198.8,119.11 L199.3,119.00 L199.8,118.86 L200.3,118.71 L200.8,118.55 L201.3,118.36 L201.8,118.16 L202.3,117.93 L202.8,117.68 L203.3,117.40 L203.8,117.10 L204.3,116.77 L204.8,116.40 L205.3,116.00 L205.8,115.57 L206.3,115.10 L206.8,114.58 L207.3,114.02 L207.8,113.42 L208.3,112.77 L208.8,112.07 L209.3,111.31 L209.8,110.50 L210.3,109.64 L210.8,108.71 L211.3,107.73 L211.8,106.68 L212.3,105.57 L212.8,104.39 L213.3,103.15 L213.8,101.85 L214.3,100.47 L214.8,99.04 L215.3,97.53 L215.8,95.96 L216.3,94.33 L216.8,92.63 L217.3,90.88 L217.8,89.07 L218.3,87.20 L218.8,85.29 L219.3,83.33 L219.8,81.32 L220.3,79.28 L220.8,77.22 L221.3,75.12 L221.8,73.01 L222.3,70.88 L222.8,68.76 L223.3,66.63 L223.8,64.52 L224.3,62.43 L224.8,60.36 L225.3,58.33 L225.8,56.35 L226.3,54.42 L226.8,52.55 L227.3,50.76 L227.8,49.04 L228.3,47.42 L228.8,45.88 L229.3,44.45 L229.8,43.14 L230.3,41.93 L230.8,40.86 L231.3,39.91 L231.8,39.09 L232.3,38.41 L232.8,37.88 L233.3,37.49 L233.8,37.24 L234.3,37.15 L234.8,37.20 L235.3,37.40 L235.8,37.74 L236.3,38.23 L236.8,38.86 L237.3,39.63 L237.8,40.53 L238.3,41.56 L238.8,42.71 L239.3,43.99 L239.8,45.37 L240.3,46.86 L240.8,48.45 L241.3,50.13 L241.8,51.89 L242.3,53.72 L242.8,55.62 L243.3,57.57 L243.8,59.57 L244.3,61.62 L244.8,63.69 L245.3,65.78 L245.8,67.90 L246.3,70.01 L246.8,72.13 L247.3,74.24 L247.8,76.33 L248.3,78.40 L248.8,80.44 L249.3,82.45 L249.8,84.43 L250.3,86.35 L250.8,88.23 L251.3,90.06 L251.8,91.83 L252.3,93.55 L252.8,95.20 L253.3,96.79 L253.8,98.32 L254.3,99.79 L254.8,101.18 L255.3,102.52 L255.8,103.78 L256.3,104.99 L256.8,106.12 L257.3,107.20 L257.8,108.21 L258.3,109.16 L258.8,110.05 L259.3,110.89 L259.8,111.67 L260.3,112.39 L260.8,113.07 L261.3,113.70 L261.8,114.28 L262.3,114.81 L262.8,115.31 L263.3,115.76 L263.8,116.18 L264.3,116.56 L264.8,116.91 L265.3,117.23 L265.8,117.52 L266.3,117.78 L266.8,118.02 L267.3,118.24 L267.8,118.44 L268.3,118.61 L268.8,118.77 L269.3,118.91 L269.8,119.04 L270.3,119.16 L270.8,119.26 L271.3,119.35 L271.8,119.43 L272.3,119.50 L272.8,119.56 L273.3,119.62 L273.8,119.67 L274.3,119.71 L274.8,119.75 L275.3,119.78 L275.8,119.81 L276.3,119.84 L276.8,119.86 L277.3,119.88 L277.8,119.90 L278.3,119.91 L278.8,119.93 L279.3,119.94 L279.8,119.95 L280.3,119.95 L280.8,119.96 L281.3,119.97 L281.8,119.97 L282.3,119.98 L282.8,119.98 L283.3,119.98 L283.8,119.99 L284.3,119.99 L284.8,119.99 L285.3,119.99 L285.8,119.99 L286.3,119.99 L286.8,120.00 L287.3,120.00 L287.8,120.00 L288.3,120.00 L288.8,120.00 L289.3,120.00 L289.8,120.00 L290.3,120.00 L290.8,120.00 L291.3,120.00 L291.8,120.00 L292.3,120.00 L292.8,120.00 L293.3,120.00 L293.8,120.00 L294.3,120.00 L294.8,120.00 L295.3,120.00 L295.8,120.00 L296.3,120.00 L296.8,120.00 L297.3,120.00 L297.8,120.00 L298.3,120.00 L298.8,120.00 L299.3,120.00 L299.8,120.00 L300.3,120.00 L300.8,120.00 L301.3,120.00 L301.8,120.00 L302.3,120.00 L302.8,120.00 L303.3,120.00 L303.8,120.00 L304.3,120.00 L304.8,120.00 L305.3,120.00 L305.8,120.00 L306.3,120.00 L306.8,120.00 L307.3,120.00 L307.8,120.00 L308.3,120.00 L308.8,120.00 L309.3,120.00 L309.8,120.00 L310.3,120.00 L310.8,120.00 L311.3,120.00 L311.8,120.00 L312.3,120.00 L312.8,120.00 L313.3,120.00 L313.8,120.00 L314.3,120.00 L314.8,120.00 L315.3,120.00 L315.8,120.00 L316.3,120.00 L316.8,120.00 L317.3,120.00 L317.8,120.00 L318.3,120.00 L318.8,120.00 L319.3,120.00 L319.8,120.00 L320.3,120.00 L320.8,120.00 L321.3,120.00 L321.8,120.00 L322.3,120.00 L322.8,120.00 L323.3,120.00 L323.8,120.00 L324.3,120.00 L324.8,120.00 L325.3,120.00 L325.8,120.00 L326.3,120.00 L326.8,120.00 L327.3,120.00 L327.8,120.00 L328.3,120.00 L328.8,120.00 L329.3,120.00 L329.8,120.00 L330.3,120.00 L330.8,120.00 L331.3,120.00 L331.8,120.00 L332.3,120.00 L332.8,120.00 L333.3,120.00 L333.8,120.00 L334.3,120.00 L334.8,120.00 L335.3,120.00 L335.8,120.00 L336.3,120.00 L336.8,120.00 L337.3,120.00 L337.8,120.00 L338.3,120.00 L338.8,120.00 L339.3,120.00 L339.8,120.00" fill="none" stroke="#000" stroke-width="1.7"/>
<path d="M187.8,119.97 L188.3,119.96 L188.8,119.95 L189.3,119.94 L189.8,119.93 L190.3,119.91 L190.8,119.89 L191.3,119.87 L191.8,119.84 L192.3,119.81 L192.8,119.76 L193.3,119.71 L193.8,119.65 L194.3,119.58 L194.8,119.49 L195.3,119.39 L195.8,119.27 L196.3,119.13 L196.8,118.97 L197.3,118.78 L197.8,118.58 L198.3,118.35 L198.8,118.09 L199.3,117.81 L199.8,117.51 L200.3,117.18 L200.8,116.82 L201.3,116.44 L201.8,116.04 L202.3,115.62 L202.8,115.19 L203.3,114.74 L203.8,114.27 L204.3,113.80 L204.8,113.31 L205.3,112.81 L205.8,112.30 L206.3,111.78 L206.8,111.24 L207.3,110.69 L207.8,110.11 L208.3,109.51 L208.8,108.87 L209.3,108.20 L209.8,107.48 L210.3,106.71 L210.8,105.88 L211.3,104.98 L211.8,104.01 L212.3,102.97 L212.8,101.84 L213.3,100.62 L213.8,99.32 L214.3,97.92 L214.8,96.43 L215.3,94.84 L215.8,93.17 L216.3,91.40 L216.8,89.54 L217.3,87.61 L217.8,85.59 L218.3,83.50 L218.8,81.35 L219.3,79.13 L219.8,76.87 L220.3,74.56 L220.8,72.22 L221.3,69.86 L221.8,67.48 L222.3,65.10 L222.8,62.72 L223.3,60.37 L223.8,58.04 L224.3,55.74 L224.8,53.50 L225.3,51.32 L225.8,49.21 L226.3,47.17 L226.8,45.23 L227.3,43.39 L227.8,41.65 L228.3,40.03 L228.8,38.53 L229.3,37.17 L229.8,35.93 L230.3,34.84 L230.8,33.89 L231.3,33.09 L231.8,32.44 L232.3,31.94 L232.8,31.58 L233.3,31.38 L233.8,31.32 L234.3,31.41 L234.8,31.63 L235.3,31.99 L235.8,32.48 L236.3,33.10 L236.8,33.83 L237.3,34.67 L237.8,35.61 L238.3,36.64 L238.8,37.76 L239.3,38.95 L239.8,40.21 L240.3,41.53 L240.8,42.91 L241.3,44.32 L241.8,45.76 L242.3,47.24 L242.8,48.73 L243.3,50.23 L243.8,51.73 L244.3,53.23 L244.8,54.73 L245.3,56.21 L245.8,57.68 L246.3,59.12 L246.8,60.54 L247.3,61.93 L247.8,63.29 L248.3,64.63 L248.8,65.92 L249.3,67.19 L249.8,68.42 L250.3,69.62 L250.8,70.78 L251.3,71.91 L251.8,73.02 L252.3,74.09 L252.8,75.13 L253.3,76.14 L253.8,77.13 L254.3,78.10 L254.8,79.04 L255.3,79.96 L255.8,80.87 L256.3,81.76 L256.8,82.63 L257.3,83.49 L257.8,84.34 L258.3,85.18 L258.8,86.00 L259.3,86.83 L259.8,87.64 L260.3,88.45 L260.8,89.25 L261.3,90.05 L261.8,90.84 L262.3,91.62 L262.8,92.41 L263.3,93.19 L263.8,93.96 L264.3,94.73 L264.8,95.50 L265.3,96.26 L265.8,97.01 L266.3,97.76 L266.8,98.50 L267.3,99.24 L267.8,99.96 L268.3,100.68 L268.8,101.39 L269.3,102.09 L269.8,102.77 L270.3,103.45 L270.8,104.11 L271.3,104.77 L271.8,105.40 L272.3,106.03 L272.8,106.64 L273.3,107.24 L273.8,107.82 L274.3,108.39 L274.8,108.94 L275.3,109.47 L275.8,109.99 L276.3,110.50 L276.8,110.98 L277.3,111.45 L277.8,111.91 L278.3,112.34 L278.8,112.76 L279.3,113.17 L279.8,113.56 L280.3,113.93 L280.8,114.28 L281.3,114.62 L281.8,114.95 L282.3,115.26 L282.8,115.56 L283.3,115.84 L283.8,116.11 L284.3,116.36 L284.8,116.60 L285.3,116.83 L285.8,117.05 L286.3,117.25 L286.8,117.44 L287.3,117.62 L287.8,117.79 L288.3,117.95 L288.8,118.10 L289.3,118.25 L289.8,118.38 L290.3,118.50 L290.8,118.62 L291.3,118.73 L291.8,118.83 L292.3,118.92 L292.8,119.01 L293.3,119.09 L293.8,119.17 L294.3,119.24 L294.8,119.30 L295.3,119.36 L295.8,119.42 L296.3,119.47 L296.8,119.51 L297.3,119.56 L297.8,119.60 L298.3,119.63 L298.8,119.67 L299.3,119.70 L299.8,119.73 L300.3,119.75 L300.8,119.78 L301.3,119.80 L301.8,119.82 L302.3,119.84 L302.8,119.85 L303.3,119.87 L303.8,119.88 L304.3,119.89 L304.8,119.90 L305.3,119.91 L305.8,119.92 L306.3,119.93 L306.8,119.94 L307.3,119.94 L307.8,119.95 L308.3,119.96 L308.8,119.96 L309.3,119.97 L309.8,119.97 L310.3,119.97 L310.8,119.98 L311.3,119.98 L311.8,119.98 L312.3,119.98 L312.8,119.99 L313.3,119.99 L313.8,119.99 L314.3,119.99 L314.8,119.99 L315.3,119.99 L315.8,119.99 L316.3,119.99 L316.8,119.99 L317.3,120.00 L317.8,120.00 L318.3,120.00 L318.8,120.00 L319.3,120.00 L319.8,120.00 L320.3,120.00 L320.8,120.00 L321.3,120.00 L321.8,120.00 L322.3,120.00 L322.8,120.00 L323.3,120.00 L323.8,120.00 L324.3,120.00 L324.8,120.00 L325.3,120.00 L325.8,120.00 L326.3,120.00 L326.8,120.00 L327.3,120.00 L327.8,120.00 L328.3,120.00 L328.8,120.00 L329.3,120.00 L329.8,120.00 L330.3,120.00 L330.8,120.00 L331.3,120.00 L331.8,120.00 L332.3,120.00 L332.8,120.00 L333.3,120.00 L333.8,120.00 L334.3,120.00 L334.8,120.00 L335.3,120.00 L335.8,120.00 L336.3,120.00 L336.8,120.00 L337.3,120.00 L337.8,120.00 L338.3,120.00 L338.8,120.00 L339.3,120.00 L339.8,120.00" fill="none" stroke="#ff00ff" stroke-width="1.9"/>
<path d="M187.8,119.97 L188.3,119.96 L188.8,119.95 L189.3,119.94 L189.8,119.93 L190.3,119.91 L190.8,119.89 L191.3,119.87 L191.8,119.84 L192.3,119.81 L192.8,119.76 L193.3,119.71 L193.8,119.65 L194.3,119.58 L194.8,119.49 L195.3,119.39 L195.8,119.27 L196.3,119.13 L196.8,118.97 L197.3,118.78 L197.8,118.58 L198.3,118.35 L198.8,118.09 L199.3,117.81 L199.8,117.51 L200.3,117.18 L200.8,116.82 L201.3,116.44 L201.8,116.04 L202.3,115.62 L202.8,115.19 L203.3,114.74 L203.8,114.27 L204.3,113.80 L204.8,113.31 L205.3,112.81 L205.8,112.30 L206.3,111.78 L206.8,111.24 L207.3,110.69 L207.8,110.11 L208.3,109.51 L208.8,108.87 L209.3,108.20 L209.8,107.48 L210.3,106.71 L210.8,105.88 L211.3,104.98 L211.8,104.01 L212.3,102.97 L212.8,101.84 L213.3,100.62 L213.8,99.32 L214.3,97.92 L214.8,96.43 L215.3,94.84 L215.8,93.17 L216.3,91.40 L216.8,89.54 L217.3,87.61 L217.8,85.59 L218.3,83.50 L218.8,81.35 L219.3,79.13 L219.8,76.87 L220.3,74.56 L220.8,72.22 L221.3,69.86 L221.8,67.48 L222.3,65.10 L222.8,62.72 L223.3,60.37 L223.8,58.04 L224.3,55.74 L224.8,53.50 L225.3,51.32 L225.8,49.21 L226.3,47.17 L226.8,45.23 L227.3,43.39 L227.8,41.65 L228.3,40.03 L228.8,38.53 L229.3,37.17 L229.8,35.93 L230.3,34.84 L230.8,33.89 L231.3,33.09 L231.8,32.44 L232.3,31.94 L232.8,31.58 L233.3,31.38 L233.8,31.32 L234.3,31.41 L234.8,31.63 L235.3,31.99 L235.8,32.48 L236.3,33.10 L236.8,33.83 L237.3,34.67 L237.8,35.61 L238.3,36.64 L238.8,37.76 L239.3,38.95 L239.8,40.21 L240.3,41.53 L240.8,42.91 L241.3,44.32 L241.8,45.76 L242.3,47.24 L242.8,48.73 L243.3,50.23 L243.8,51.73 L244.3,53.23 L244.8,54.73 L245.3,56.21 L245.8,57.68 L246.3,59.12 L246.8,60.54 L247.3,61.93 L247.8,63.29 L248.3,64.63 L248.8,65.92 L249.3,67.19 L249.8,68.42 L250.3,69.62 L250.8,70.78 L251.3,71.91 L251.8,73.02 L252.3,74.09 L252.8,75.13 L253.3,76.14 L253.8,77.13 L254.3,78.10 L254.8,79.04 L255.3,79.96 L255.8,80.87 L256.3,81.76 L256.8,82.63 L257.3,83.49 L257.8,84.34 L258.3,85.18 L258.8,86.00 L259.3,86.83 L259.8,87.64 L260.3,88.45 L260.8,89.25 L261.3,90.05 L261.8,90.84 L262.3,91.62 L262.8,92.41 L263.3,93.19 L263.8,93.96 L264.3,94.73 L264.8,95.50 L265.3,96.26 L265.8,97.01 L266.3,97.76 L266.8,98.50 L267.3,99.24 L267.8,99.96 L268.3,100.68 L268.8,101.39 L269.3,102.09 L269.8,102.77 L270.3,103.45 L270.8,104.11 L271.3,104.77 L271.8,105.40 L272.3,106.03 L272.8,106.64 L273.3,107.24 L273.8,107.82 L274.3,108.39 L274.8,108.94 L275.3,109.47 L275.8,109.99 L276.3,110.50 L276.8,110.98 L277.3,111.45 L277.8,111.91 L278.3,112.34 L278.8,112.76 L279.3,113.17 L279.8,113.56 L280.3,113.93 L280.8,114.28 L281.3,114.62 L281.8,114.95 L282.3,115.26 L282.8,115.56 L283.3,115.84 L283.8,116.11 L284.3,116.36 L284.8,116.60 L285.3,116.83 L285.8,117.05 L286.3,117.25 L286.8,117.44 L287.3,117.62 L287.8,117.79 L288.3,117.95 L288.8,118.10 L289.3,118.25 L289.8,118.38 L290.3,118.50 L290.8,118.62 L291.3,118.73 L291.8,118.83 L292.3,118.92 L292.8,119.01 L293.3,119.09 L293.8,119.17 L294.3,119.24 L294.8,119.30 L295.3,119.36 L295.8,119.42 L296.3,119.47 L296.8,119.51 L297.3,119.56 L297.8,119.60 L298.3,119.63 L298.8,119.67 L299.3,119.70 L299.8,119.73 L300.3,119.75 L300.8,119.78 L301.3,119.80 L301.8,119.82 L302.3,119.84 L302.8,119.85 L303.3,119.87 L303.8,119.88 L304.3,119.89 L304.8,119.90 L305.3,119.91 L305.8,119.92 L306.3,119.93 L306.8,119.94 L307.3,119.94 L307.8,119.95 L308.3,119.96 L308.8,119.96 L309.3,119.97 L309.8,119.97 L310.3,119.97 L310.8,119.98 L311.3,119.98 L311.8,119.98 L312.3,119.98 L312.8,119.99 L313.3,119.99 L313.8,119.99 L314.3,119.99 L314.8,119.99 L315.3,119.99 L315.8,119.99 L316.3,119.99 L316.8,119.99 L317.3,120.00 L317.8,120.00 L318.3,120.00 L318.8,120.00 L319.3,120.00 L319.8,120.00 L320.3,120.00 L320.8,120.00 L321.3,120.00 L321.8,120.00 L322.3,120.00 L322.8,120.00 L323.3,120.00 L323.8,120.00 L324.3,120.00 L324.8,120.00 L325.3,120.00 L325.8,120.00 L326.3,120.00 L326.8,120.00 L327.3,120.00 L327.8,120.00 L328.3,120.00 L328.8,120.00 L329.3,120.00 L329.8,120.00 L330.3,120.00 L330.8,120.00 L331.3,120.00 L331.8,120.00 L332.3,120.00 L332.8,120.00 L333.3,120.00 L333.8,120.00 L334.3,120.00 L334.8,120.00 L335.3,120.00 L335.8,120.00 L336.3,120.00 L336.8,120.00 L337.3,120.00 L337.8,120.00 L338.3,120.00 L338.8,120.00 L339.3,120.00 L339.8,120.00" fill="none" stroke="#306c30" stroke-width="1.9" stroke-dasharray="8.5 6.5" stroke-dashoffset="2.3"/>
<rect x="187.3" y="13.7" width="153.0" height="123.10000000000001" fill="none" stroke="#111" stroke-width="1.4"/>
<line x1="187.30" y1="136.8" x2="187.30" y2="134.60000000000002" stroke="#222" stroke-width="1"/>
<text class="th" x="187.30" y="145" font-size="6.4" text-anchor="middle">528</text>
<line x1="206.43" y1="136.8" x2="206.43" y2="135.60000000000002" stroke="#222" stroke-width="1"/>
<line x1="225.55" y1="136.8" x2="225.55" y2="134.60000000000002" stroke="#222" stroke-width="1"/>
<text class="th" x="225.55" y="145" font-size="6.4" text-anchor="middle">530</text>
<line x1="244.68" y1="136.8" x2="244.68" y2="135.60000000000002" stroke="#222" stroke-width="1"/>
<line x1="263.80" y1="136.8" x2="263.80" y2="134.60000000000002" stroke="#222" stroke-width="1"/>
<text class="th" x="263.80" y="145" font-size="6.4" text-anchor="middle">532</text>
<line x1="282.93" y1="136.8" x2="282.93" y2="135.60000000000002" stroke="#222" stroke-width="1"/>
<line x1="302.05" y1="136.8" x2="302.05" y2="134.60000000000002" stroke="#222" stroke-width="1"/>
<text class="th" x="302.05" y="145" font-size="6.4" text-anchor="middle">534</text>
<line x1="321.18" y1="136.8" x2="321.18" y2="135.60000000000002" stroke="#222" stroke-width="1"/>
<line x1="340.30" y1="136.8" x2="340.30" y2="134.60000000000002" stroke="#222" stroke-width="1"/>
<text class="th" x="340.30" y="145" font-size="6.4" text-anchor="middle">536</text>
<text class="th2" transform="translate(215.1,155.3) scale(1,0.92)" font-size="10.52">Binding energy (eV)</text>
<text class="th2" transform="translate(180.6,75.6) rotate(-90) scale(1,0.9)" font-size="10.42" text-anchor="middle">Intensity (arb. units)</text>
<text transform="translate(172.2,14.5) scale(0.85,1)" font-size="23.5">b</text>
<line x1="245.3" y1="19.2" x2="260.8" y2="19.2" stroke="#ff00ff" stroke-width="1.8"/>
<line x1="245.3" y1="28.6" x2="253.10000000000002" y2="28.6" stroke="#2f6e2f" stroke-width="1.8"/>
<line x1="245.3" y1="37.2" x2="260.8" y2="37.2" stroke="#000" stroke-width="1.8"/>
<line x1="245.3" y1="45.6" x2="260.8" y2="45.6" stroke="#ee1a1a" stroke-width="1.8"/>
<line x1="245.3" y1="53.6" x2="260.8" y2="53.6" stroke="#1010ee" stroke-width="1.8"/>
<text class="th" x="262.1" y="21.33" font-size="6.45">0.025M ZnO/SnO<tspan font-size="4.00" dy="1.2">2</tspan><tspan dy="-1.2">-Original</tspan></text>
<text class="th" x="262.1" y="30.73" font-size="6.45">Combination</text>
<text class="th" x="262.1" y="39.33" font-size="6.45">O<tspan font-size="4.00" dy="-2.2">2-</tspan></text>
<text class="th" x="262.1" y="47.73" font-size="6.45">Ov</text>
<text class="th" x="262.1" y="55.73" font-size="6.45">-OH</text></g>
<g><path d="M364.8,119.90 L365.3,119.90 L365.8,119.90 L366.3,119.90 L366.8,119.90 L367.3,119.90 L367.8,119.90 L368.3,119.90 L368.8,119.90 L369.3,119.90 L369.8,119.90 L370.3,119.90 L370.8,119.90 L371.3,119.90 L371.8,119.90 L372.3,119.90 L372.8,119.90 L373.3,119.90 L373.8,119.90 L374.3,119.90 L374.8,119.90 L375.3,119.90 L375.8,119.90 L376.3,119.90 L376.8,119.90 L377.3,119.90 L377.8,119.90 L378.3,119.90 L378.8,119.90 L379.3,119.90 L379.8,119.90 L380.3,119.90 L380.8,119.90 L381.3,119.90 L381.8,119.90 L382.3,119.90 L382.8,119.90 L383.3,119.90 L383.8,119.90 L384.3,119.90 L384.8,119.90 L385.3,119.90 L385.8,119.90 L386.3,119.90 L386.8,119.90 L387.3,119.90 L387.8,119.90 L388.3,119.90 L388.8,119.90 L389.3,119.90 L389.8,119.90 L390.3,119.90 L390.8,119.90 L391.3,119.90 L391.8,119.90 L392.3,119.90 L392.8,119.90 L393.3,119.90 L393.8,119.90 L394.3,119.90 L394.8,119.90 L395.3,119.90 L395.8,119.90 L396.3,119.90 L396.8,119.90 L397.3,119.90 L397.8,119.90 L398.3,119.90 L398.8,119.90 L399.3,119.90 L399.8,119.90 L400.3,119.90 L400.8,119.90 L401.3,119.90 L401.8,119.90 L402.3,119.90 L402.8,119.89 L403.3,119.89 L403.8,119.89 L404.3,119.89 L404.8,119.89 L405.3,119.88 L405.8,119.88 L406.3,119.87 L406.8,119.87 L407.3,119.86 L407.8,119.85 L408.3,119.84 L408.8,119.83 L409.3,119.82 L409.8,119.80 L410.3,119.78 L410.8,119.76 L411.3,119.73 L411.8,119.70 L412.3,119.66 L412.8,119.62 L413.3,119.57 L413.8,119.52 L414.3,119.46 L414.8,119.38 L415.3,119.30 L415.8,119.21 L416.3,119.11 L416.8,118.99 L417.3,118.86 L417.8,118.72 L418.3,118.56 L418.8,118.38 L419.3,118.19 L419.8,117.97 L420.3,117.74 L420.8,117.49 L421.3,117.22 L421.8,116.92 L422.3,116.61 L422.8,116.28 L423.3,115.92 L423.8,115.54 L424.3,115.15 L424.8,114.73 L425.3,114.30 L425.8,113.85 L426.3,113.39 L426.8,112.91 L427.3,112.42 L427.8,111.93 L428.3,111.43 L428.8,110.93 L429.3,110.43 L429.8,109.94 L430.3,109.46 L430.8,108.99 L431.3,108.53 L431.8,108.10 L432.3,107.69 L432.8,107.30 L433.3,106.95 L433.8,106.63 L434.3,106.35 L434.8,106.11 L435.3,105.91 L435.8,105.75 L436.3,105.64 L436.8,105.58 L437.3,105.56 L437.8,105.58 L438.3,105.64 L438.8,105.73 L439.3,105.85 L439.8,106.00 L440.3,106.19 L440.8,106.40 L441.3,106.65 L441.8,106.92 L442.3,107.21 L442.8,107.53 L443.3,107.87 L443.8,108.23 L444.3,108.60 L444.8,108.99 L445.3,109.39 L445.8,109.80 L446.3,110.22 L446.8,110.64 L447.3,111.06 L447.8,111.49 L448.3,111.91 L448.8,112.33 L449.3,112.75 L449.8,113.15 L450.3,113.55 L450.8,113.95 L451.3,114.33 L451.8,114.69 L452.3,115.05 L452.8,115.39 L453.3,115.72 L453.8,116.03 L454.3,116.33 L454.8,116.61 L455.3,116.88 L455.8,117.14 L456.3,117.37 L456.8,117.60 L457.3,117.80 L457.8,118.00 L458.3,118.18 L458.8,118.34 L459.3,118.50 L459.8,118.64 L460.3,118.77 L460.8,118.89 L461.3,119.00 L461.8,119.10 L462.3,119.19 L462.8,119.27 L463.3,119.34 L463.8,119.41 L464.3,119.47 L464.8,119.52 L465.3,119.57 L465.8,119.61 L466.3,119.65 L466.8,119.68 L467.3,119.71 L467.8,119.73 L468.3,119.76 L468.8,119.78 L469.3,119.79 L469.8,119.81 L470.3,119.82 L470.8,119.83 L471.3,119.84 L471.8,119.85 L472.3,119.86 L472.8,119.87 L473.3,119.87 L473.8,119.88 L474.3,119.88 L474.8,119.88 L475.3,119.89 L475.8,119.89 L476.3,119.89 L476.8,119.89 L477.3,119.89 L477.8,119.89 L478.3,119.90 L478.8,119.90 L479.3,119.90 L479.8,119.90 L480.3,119.90 L480.8,119.90 L481.3,119.90 L481.8,119.90 L482.3,119.90 L482.8,119.90 L483.3,119.90 L483.8,119.90 L484.3,119.90 L484.8,119.90 L485.3,119.90 L485.8,119.90 L486.3,119.90 L486.8,119.90 L487.3,119.90 L487.8,119.90 L488.3,119.90 L488.8,119.90 L489.3,119.90 L489.8,119.90 L490.3,119.90 L490.8,119.90 L491.3,119.90 L491.8,119.90 L492.3,119.90 L492.8,119.90 L493.3,119.90 L493.8,119.90 L494.3,119.90 L494.8,119.90 L495.3,119.90 L495.8,119.90 L496.3,119.90 L496.8,119.90 L497.3,119.90 L497.8,119.90 L498.3,119.90 L498.8,119.90 L499.3,119.90 L499.8,119.90 L500.3,119.90 L500.8,119.90 L501.3,119.90 L501.8,119.90 L502.3,119.90 L502.8,119.90 L503.3,119.90 L503.8,119.90 L504.3,119.90 L504.8,119.90 L505.3,119.90 L505.8,119.90 L506.3,119.90 L506.8,119.90 L507.3,119.90 L507.8,119.90 L508.3,119.90 L508.8,119.90 L509.3,119.90 L509.8,119.90 L510.3,119.90 L510.8,119.90 L511.3,119.90 L511.8,119.90 L512.3,119.90 L512.8,119.90 L513.3,119.90 L513.8,119.90" fill="none" stroke="#1414e0" stroke-width="1.7"/>
<path d="M364.8,119.78 L365.3,119.77 L365.8,119.76 L366.3,119.74 L366.8,119.73 L367.3,119.72 L367.8,119.70 L368.3,119.68 L368.8,119.66 L369.3,119.64 L369.8,119.62 L370.3,119.60 L370.8,119.57 L371.3,119.55 L371.8,119.52 L372.3,119.49 L372.8,119.45 L373.3,119.42 L373.8,119.38 L374.3,119.34 L374.8,119.30 L375.3,119.25 L375.8,119.20 L376.3,119.15 L376.8,119.10 L377.3,119.04 L377.8,118.98 L378.3,118.92 L378.8,118.85 L379.3,118.78 L379.8,118.70 L380.3,118.62 L380.8,118.54 L381.3,118.45 L381.8,118.35 L382.3,118.26 L382.8,118.15 L383.3,118.05 L383.8,117.93 L384.3,117.82 L384.8,117.69 L385.3,117.57 L385.8,117.43 L386.3,117.29 L386.8,117.15 L387.3,117.00 L387.8,116.84 L388.3,116.68 L388.8,116.51 L389.3,116.34 L389.8,116.16 L390.3,115.97 L390.8,115.78 L391.3,115.59 L391.8,115.38 L392.3,115.17 L392.8,114.96 L393.3,114.74 L393.8,114.51 L394.3,114.28 L394.8,114.04 L395.3,113.80 L395.8,113.56 L396.3,113.31 L396.8,113.05 L397.3,112.79 L397.8,112.53 L398.3,112.26 L398.8,111.99 L399.3,111.72 L399.8,111.44 L400.3,111.16 L400.8,110.88 L401.3,110.60 L401.8,110.32 L402.3,110.03 L402.8,109.75 L403.3,109.47 L403.8,109.18 L404.3,108.90 L404.8,108.62 L405.3,108.34 L405.8,108.07 L406.3,107.79 L406.8,107.53 L407.3,107.26 L407.8,107.00 L408.3,106.75 L408.8,106.50 L409.3,106.25 L409.8,106.02 L410.3,105.79 L410.8,105.57 L411.3,105.36 L411.8,105.15 L412.3,104.96 L412.8,104.77 L413.3,104.60 L413.8,104.43 L414.3,104.28 L414.8,104.13 L415.3,104.00 L415.8,103.88 L416.3,103.77 L416.8,103.68 L417.3,103.60 L417.8,103.53 L418.3,103.47 L418.8,103.42 L419.3,103.39 L419.8,103.37 L420.3,103.37 L420.8,103.38 L421.3,103.39 L421.8,103.42 L422.3,103.46 L422.8,103.50 L423.3,103.56 L423.8,103.63 L424.3,103.71 L424.8,103.79 L425.3,103.89 L425.8,103.99 L426.3,104.11 L426.8,104.23 L427.3,104.37 L427.8,104.51 L428.3,104.66 L428.8,104.81 L429.3,104.98 L429.8,105.15 L430.3,105.33 L430.8,105.51 L431.3,105.71 L431.8,105.91 L432.3,106.11 L432.8,106.32 L433.3,106.53 L433.8,106.75 L434.3,106.98 L434.8,107.21 L435.3,107.44 L435.8,107.67 L436.3,107.91 L436.8,108.15 L437.3,108.40 L437.8,108.64 L438.3,108.89 L438.8,109.14 L439.3,109.39 L439.8,109.64 L440.3,109.89 L440.8,110.14 L441.3,110.39 L441.8,110.64 L442.3,110.88 L442.8,111.13 L443.3,111.38 L443.8,111.62 L444.3,111.86 L444.8,112.10 L445.3,112.34 L445.8,112.57 L446.3,112.81 L446.8,113.04 L447.3,113.26 L447.8,113.48 L448.3,113.70 L448.8,113.92 L449.3,114.13 L449.8,114.33 L450.3,114.54 L450.8,114.74 L451.3,114.93 L451.8,115.12 L452.3,115.31 L452.8,115.49 L453.3,115.66 L453.8,115.84 L454.3,116.00 L454.8,116.17 L455.3,116.32 L455.8,116.48 L456.3,116.63 L456.8,116.77 L457.3,116.91 L457.8,117.05 L458.3,117.18 L458.8,117.31 L459.3,117.43 L459.8,117.55 L460.3,117.66 L460.8,117.77 L461.3,117.88 L461.8,117.98 L462.3,118.07 L462.8,118.17 L463.3,118.26 L463.8,118.34 L464.3,118.43 L464.8,118.51 L465.3,118.58 L465.8,118.65 L466.3,118.72 L466.8,118.79 L467.3,118.85 L467.8,118.91 L468.3,118.97 L468.8,119.02 L469.3,119.08 L469.8,119.12 L470.3,119.17 L470.8,119.22 L471.3,119.26 L471.8,119.30 L472.3,119.33 L472.8,119.37 L473.3,119.40 L473.8,119.44 L474.3,119.47 L474.8,119.49 L475.3,119.52 L475.8,119.55 L476.3,119.57 L476.8,119.59 L477.3,119.61 L477.8,119.63 L478.3,119.65 L478.8,119.67 L479.3,119.69 L479.8,119.70 L480.3,119.72 L480.8,119.73 L481.3,119.74 L481.8,119.75 L482.3,119.76 L482.8,119.77 L483.3,119.78 L483.8,119.79 L484.3,119.80 L484.8,119.81 L485.3,119.82 L485.8,119.82 L486.3,119.83 L486.8,119.83 L487.3,119.84 L487.8,119.84 L488.3,119.85 L488.8,119.85 L489.3,119.86 L489.8,119.86 L490.3,119.86 L490.8,119.87 L491.3,119.87 L491.8,119.87 L492.3,119.87 L492.8,119.88 L493.3,119.88 L493.8,119.88 L494.3,119.88 L494.8,119.88 L495.3,119.89 L495.8,119.89 L496.3,119.89 L496.8,119.89 L497.3,119.89 L497.8,119.89 L498.3,119.89 L498.8,119.89 L499.3,119.89 L499.8,119.89 L500.3,119.89 L500.8,119.89 L501.3,119.90 L501.8,119.90 L502.3,119.90 L502.8,119.90 L503.3,119.90 L503.8,119.90 L504.3,119.90 L504.8,119.90 L505.3,119.90 L505.8,119.90 L506.3,119.90 L506.8,119.90 L507.3,119.90 L507.8,119.90 L508.3,119.90 L508.8,119.90 L509.3,119.90 L509.8,119.90 L510.3,119.90 L510.8,119.90 L511.3,119.90 L511.8,119.90 L512.3,119.90 L512.8,119.90 L513.3,119.90 L513.8,119.90" fill="none" stroke="#e81c1c" stroke-width="1.7"/>
<path d="M364.8,119.86 L365.3,119.85 L365.8,119.84 L366.3,119.83 L366.8,119.82 L367.3,119.80 L367.8,119.78 L368.3,119.77 L368.8,119.74 L369.3,119.72 L369.8,119.69 L370.3,119.65 L370.8,119.61 L371.3,119.57 L371.8,119.52 L372.3,119.46 L372.8,119.39 L373.3,119.32 L373.8,119.23 L374.3,119.14 L374.8,119.03 L375.3,118.91 L375.8,118.77 L376.3,118.62 L376.8,118.45 L377.3,118.27 L377.8,118.06 L378.3,117.82 L378.8,117.57 L379.3,117.28 L379.8,116.97 L380.3,116.63 L380.8,116.25 L381.3,115.84 L381.8,115.39 L382.3,114.90 L382.8,114.36 L383.3,113.79 L383.8,113.16 L384.3,112.48 L384.8,111.75 L385.3,110.97 L385.8,110.13 L386.3,109.23 L386.8,108.27 L387.3,107.25 L387.8,106.17 L388.3,105.02 L388.8,103.81 L389.3,102.53 L389.8,101.18 L390.3,99.77 L390.8,98.29 L391.3,96.75 L391.8,95.15 L392.3,93.49 L392.8,91.77 L393.3,89.99 L393.8,88.16 L394.3,86.29 L394.8,84.37 L395.3,82.41 L395.8,80.43 L396.3,78.41 L396.8,76.38 L397.3,74.33 L397.8,72.28 L398.3,70.24 L398.8,68.20 L399.3,66.18 L399.8,64.19 L400.3,62.24 L400.8,60.33 L401.3,58.47 L401.8,56.68 L402.3,54.96 L402.8,53.33 L403.3,51.78 L403.8,50.33 L404.3,48.98 L404.8,47.74 L405.3,46.63 L405.8,45.63 L406.3,44.77 L406.8,44.05 L407.3,43.46 L407.8,43.01 L408.3,42.72 L408.8,42.56 L409.3,42.56 L409.8,42.69 L410.3,42.97 L410.8,43.39 L411.3,43.95 L411.8,44.64 L412.3,45.46 L412.8,46.40 L413.3,47.47 L413.8,48.66 L414.3,49.95 L414.8,51.34 L415.3,52.84 L415.8,54.42 L416.3,56.08 L416.8,57.81 L417.3,59.60 L417.8,61.46 L418.3,63.35 L418.8,65.29 L419.3,67.26 L419.8,69.25 L420.3,71.25 L420.8,73.27 L421.3,75.28 L421.8,77.28 L422.3,79.26 L422.8,81.23 L423.3,83.17 L423.8,85.07 L424.3,86.94 L424.8,88.76 L425.3,90.54 L425.8,92.27 L426.3,93.94 L426.8,95.56 L427.3,97.11 L427.8,98.61 L428.3,100.05 L428.8,101.42 L429.3,102.73 L429.8,103.97 L430.3,105.16 L430.8,106.28 L431.3,107.33 L431.8,108.33 L432.3,109.27 L432.8,110.15 L433.3,110.97 L433.8,111.74 L434.3,112.46 L434.8,113.12 L435.3,113.74 L435.8,114.31 L436.3,114.84 L436.8,115.33 L437.3,115.77 L437.8,116.18 L438.3,116.56 L438.8,116.90 L439.3,117.21 L439.8,117.50 L440.3,117.76 L440.8,117.99 L441.3,118.20 L441.8,118.39 L442.3,118.57 L442.8,118.72 L443.3,118.86 L443.8,118.98 L444.3,119.09 L444.8,119.19 L445.3,119.28 L445.8,119.36 L446.3,119.43 L446.8,119.49 L447.3,119.54 L447.8,119.59 L448.3,119.63 L448.8,119.67 L449.3,119.70 L449.8,119.73 L450.3,119.75 L450.8,119.77 L451.3,119.79 L451.8,119.81 L452.3,119.82 L452.8,119.83 L453.3,119.84 L453.8,119.85 L454.3,119.86 L454.8,119.86 L455.3,119.87 L455.8,119.87 L456.3,119.88 L456.8,119.88 L457.3,119.89 L457.8,119.89 L458.3,119.89 L458.8,119.89 L459.3,119.89 L459.8,119.89 L460.3,119.90 L460.8,119.90 L461.3,119.90 L461.8,119.90 L462.3,119.90 L462.8,119.90 L463.3,119.90 L463.8,119.90 L464.3,119.90 L464.8,119.90 L465.3,119.90 L465.8,119.90 L466.3,119.90 L466.8,119.90 L467.3,119.90 L467.8,119.90 L468.3,119.90 L468.8,119.90 L469.3,119.90 L469.8,119.90 L470.3,119.90 L470.8,119.90 L471.3,119.90 L471.8,119.90 L472.3,119.90 L472.8,119.90 L473.3,119.90 L473.8,119.90 L474.3,119.90 L474.8,119.90 L475.3,119.90 L475.8,119.90 L476.3,119.90 L476.8,119.90 L477.3,119.90 L477.8,119.90 L478.3,119.90 L478.8,119.90 L479.3,119.90 L479.8,119.90 L480.3,119.90 L480.8,119.90 L481.3,119.90 L481.8,119.90 L482.3,119.90 L482.8,119.90 L483.3,119.90 L483.8,119.90 L484.3,119.90 L484.8,119.90 L485.3,119.90 L485.8,119.90 L486.3,119.90 L486.8,119.90 L487.3,119.90 L487.8,119.90 L488.3,119.90 L488.8,119.90 L489.3,119.90 L489.8,119.90 L490.3,119.90 L490.8,119.90 L491.3,119.90 L491.8,119.90 L492.3,119.90 L492.8,119.90 L493.3,119.90 L493.8,119.90 L494.3,119.90 L494.8,119.90 L495.3,119.90 L495.8,119.90 L496.3,119.90 L496.8,119.90 L497.3,119.90 L497.8,119.90 L498.3,119.90 L498.8,119.90 L499.3,119.90 L499.8,119.90 L500.3,119.90 L500.8,119.90 L501.3,119.90 L501.8,119.90 L502.3,119.90 L502.8,119.90 L503.3,119.90 L503.8,119.90 L504.3,119.90 L504.8,119.90 L505.3,119.90 L505.8,119.90 L506.3,119.90 L506.8,119.90 L507.3,119.90 L507.8,119.90 L508.3,119.90 L508.8,119.90 L509.3,119.90 L509.8,119.90 L510.3,119.90 L510.8,119.90 L511.3,119.90 L511.8,119.90 L512.3,119.90 L512.8,119.90 L513.3,119.90 L513.8,119.90" fill="none" stroke="#000" stroke-width="1.7"/>
<path d="M364.8,119.82 L365.3,119.80 L365.8,119.79 L366.3,119.77 L366.8,119.75 L367.3,119.72 L367.8,119.70 L368.3,119.67 L368.8,119.63 L369.3,119.59 L369.8,119.54 L370.3,119.49 L370.8,119.43 L371.3,119.37 L371.8,119.29 L372.3,119.21 L372.8,119.11 L373.3,119.01 L373.8,118.89 L374.3,118.76 L374.8,118.61 L375.3,118.45 L375.8,118.27 L376.3,118.07 L376.8,117.85 L377.3,117.61 L377.8,117.34 L378.3,117.05 L378.8,116.72 L379.3,116.37 L379.8,115.99 L380.3,115.57 L380.8,115.12 L381.3,114.63 L381.8,114.10 L382.3,113.53 L382.8,112.91 L383.3,112.25 L383.8,111.54 L384.3,110.77 L384.8,109.96 L385.3,109.09 L385.8,108.16 L386.3,107.18 L386.8,106.14 L387.3,105.04 L387.8,103.87 L388.3,102.64 L388.8,101.34 L389.3,99.98 L389.8,98.55 L390.3,97.05 L390.8,95.48 L391.3,93.83 L391.8,92.12 L392.3,90.34 L392.8,88.48 L393.3,86.55 L393.8,84.55 L394.3,82.48 L394.8,80.35 L395.3,78.15 L395.8,75.88 L396.3,73.56 L396.8,71.18 L397.3,68.75 L397.8,66.29 L398.3,63.79 L398.8,61.28 L399.3,58.75 L399.8,56.22 L400.3,53.70 L400.8,51.22 L401.3,48.78 L401.8,46.40 L402.3,44.10 L402.8,41.89 L403.3,39.79 L403.8,37.82 L404.3,35.99 L404.8,34.32 L405.3,32.82 L405.8,31.50 L406.3,30.37 L406.8,29.43 L407.3,28.70 L407.8,28.17 L408.3,27.85 L408.8,27.72 L409.3,27.79 L409.8,28.05 L410.3,28.49 L410.8,29.10 L411.3,29.86 L411.8,30.76 L412.3,31.79 L412.8,32.93 L413.3,34.16 L413.8,35.48 L414.3,36.86 L414.8,38.29 L415.3,39.76 L415.8,41.26 L416.3,42.77 L416.8,44.29 L417.3,45.81 L417.8,47.32 L418.3,48.82 L418.8,50.30 L419.3,51.75 L419.8,53.18 L420.3,54.58 L420.8,55.95 L421.3,57.29 L421.8,58.61 L422.3,59.89 L422.8,61.15 L423.3,62.38 L423.8,63.59 L424.3,64.77 L424.8,65.94 L425.3,67.07 L425.8,68.19 L426.3,69.30 L426.8,70.38 L427.3,71.45 L427.8,72.50 L428.3,73.54 L428.8,74.56 L429.3,75.58 L429.8,76.58 L430.3,77.57 L430.8,78.56 L431.3,79.53 L431.8,80.50 L432.3,81.45 L432.8,82.40 L433.3,83.35 L433.8,84.28 L434.3,85.21 L434.8,86.13 L435.3,87.05 L435.8,87.96 L436.3,88.86 L436.8,89.76 L437.3,90.65 L437.8,91.53 L438.3,92.40 L438.8,93.27 L439.3,94.13 L439.8,94.98 L440.3,95.82 L440.8,96.65 L441.3,97.47 L441.8,98.28 L442.3,99.07 L442.8,99.86 L443.3,100.63 L443.8,101.39 L444.3,102.13 L444.8,102.86 L445.3,103.58 L445.8,104.28 L446.3,104.96 L446.8,105.63 L447.3,106.28 L447.8,106.91 L448.3,107.53 L448.8,108.13 L449.3,108.71 L449.8,109.27 L450.3,109.82 L450.8,110.34 L451.3,110.85 L451.8,111.34 L452.3,111.81 L452.8,112.26 L453.3,112.70 L453.8,113.12 L454.3,113.51 L454.8,113.90 L455.3,114.26 L455.8,114.61 L456.3,114.94 L456.8,115.26 L457.3,115.56 L457.8,115.84 L458.3,116.11 L458.8,116.37 L459.3,116.61 L459.8,116.84 L460.3,117.06 L460.8,117.26 L461.3,117.45 L461.8,117.63 L462.3,117.80 L462.8,117.96 L463.3,118.11 L463.8,118.24 L464.3,118.37 L464.8,118.50 L465.3,118.61 L465.8,118.71 L466.3,118.81 L466.8,118.90 L467.3,118.98 L467.8,119.06 L468.3,119.13 L468.8,119.20 L469.3,119.26 L469.8,119.32 L470.3,119.37 L470.8,119.42 L471.3,119.46 L471.8,119.50 L472.3,119.54 L472.8,119.57 L473.3,119.61 L473.8,119.63 L474.3,119.66 L474.8,119.68 L475.3,119.71 L475.8,119.72 L476.3,119.74 L476.8,119.76 L477.3,119.77 L477.8,119.79 L478.3,119.80 L478.8,119.81 L479.3,119.82 L479.8,119.83 L480.3,119.84 L480.8,119.84 L481.3,119.85 L481.8,119.85 L482.3,119.86 L482.8,119.86 L483.3,119.87 L483.8,119.87 L484.3,119.88 L484.8,119.88 L485.3,119.88 L485.8,119.88 L486.3,119.89 L486.8,119.89 L487.3,119.89 L487.8,119.89 L488.3,119.89 L488.8,119.89 L489.3,119.89 L489.8,119.89 L490.3,119.89 L490.8,119.90 L491.3,119.90 L491.8,119.90 L492.3,119.90 L492.8,119.90 L493.3,119.90 L493.8,119.90 L494.3,119.90 L494.8,119.90 L495.3,119.90 L495.8,119.90 L496.3,119.90 L496.8,119.90 L497.3,119.90 L497.8,119.90 L498.3,119.90 L498.8,119.90 L499.3,119.90 L499.8,119.90 L500.3,119.90 L500.8,119.90 L501.3,119.90 L501.8,119.90 L502.3,119.90 L502.8,119.90 L503.3,119.90 L503.8,119.90 L504.3,119.90 L504.8,119.90 L505.3,119.90 L505.8,119.90 L506.3,119.90 L506.8,119.90 L507.3,119.90 L507.8,119.90 L508.3,119.90 L508.8,119.90 L509.3,119.90 L509.8,119.90 L510.3,119.90 L510.8,119.90 L511.3,119.90 L511.8,119.90 L512.3,119.90 L512.8,119.90 L513.3,119.90 L513.8,119.90" fill="none" stroke="#ff00ff" stroke-width="1.9"/>
<path d="M364.8,119.82 L365.3,119.80 L365.8,119.79 L366.3,119.77 L366.8,119.75 L367.3,119.72 L367.8,119.70 L368.3,119.67 L368.8,119.63 L369.3,119.59 L369.8,119.54 L370.3,119.49 L370.8,119.43 L371.3,119.37 L371.8,119.29 L372.3,119.21 L372.8,119.11 L373.3,119.01 L373.8,118.89 L374.3,118.76 L374.8,118.61 L375.3,118.45 L375.8,118.27 L376.3,118.07 L376.8,117.85 L377.3,117.61 L377.8,117.34 L378.3,117.05 L378.8,116.72 L379.3,116.37 L379.8,115.99 L380.3,115.57 L380.8,115.12 L381.3,114.63 L381.8,114.10 L382.3,113.53 L382.8,112.91 L383.3,112.25 L383.8,111.54 L384.3,110.77 L384.8,109.96 L385.3,109.09 L385.8,108.16 L386.3,107.18 L386.8,106.14 L387.3,105.04 L387.8,103.87 L388.3,102.64 L388.8,101.34 L389.3,99.98 L389.8,98.55 L390.3,97.05 L390.8,95.48 L391.3,93.83 L391.8,92.12 L392.3,90.34 L392.8,88.48 L393.3,86.55 L393.8,84.55 L394.3,82.48 L394.8,80.35 L395.3,78.15 L395.8,75.88 L396.3,73.56 L396.8,71.18 L397.3,68.75 L397.8,66.29 L398.3,63.79 L398.8,61.28 L399.3,58.75 L399.8,56.22 L400.3,53.70 L400.8,51.22 L401.3,48.78 L401.8,46.40 L402.3,44.10 L402.8,41.89 L403.3,39.79 L403.8,37.82 L404.3,35.99 L404.8,34.32 L405.3,32.82 L405.8,31.50 L406.3,30.37 L406.8,29.43 L407.3,28.70 L407.8,28.17 L408.3,27.85 L408.8,27.72 L409.3,27.79 L409.8,28.05 L410.3,28.49 L410.8,29.10 L411.3,29.86 L411.8,30.76 L412.3,31.79 L412.8,32.93 L413.3,34.16 L413.8,35.48 L414.3,36.86 L414.8,38.29 L415.3,39.76 L415.8,41.26 L416.3,42.77 L416.8,44.29 L417.3,45.81 L417.8,47.32 L418.3,48.82 L418.8,50.30 L419.3,51.75 L419.8,53.18 L420.3,54.58 L420.8,55.95 L421.3,57.29 L421.8,58.61 L422.3,59.89 L422.8,61.15 L423.3,62.38 L423.8,63.59 L424.3,64.77 L424.8,65.94 L425.3,67.07 L425.8,68.19 L426.3,69.30 L426.8,70.38 L427.3,71.45 L427.8,72.50 L428.3,73.54 L428.8,74.56 L429.3,75.58 L429.8,76.58 L430.3,77.57 L430.8,78.56 L431.3,79.53 L431.8,80.50 L432.3,81.45 L432.8,82.40 L433.3,83.35 L433.8,84.28 L434.3,85.21 L434.8,86.13 L435.3,87.05 L435.8,87.96 L436.3,88.86 L436.8,89.76 L437.3,90.65 L437.8,91.53 L438.3,92.40 L438.8,93.27 L439.3,94.13 L439.8,94.98 L440.3,95.82 L440.8,96.65 L441.3,97.47 L441.8,98.28 L442.3,99.07 L442.8,99.86 L443.3,100.63 L443.8,101.39 L444.3,102.13 L444.8,102.86 L445.3,103.58 L445.8,104.28 L446.3,104.96 L446.8,105.63 L447.3,106.28 L447.8,106.91 L448.3,107.53 L448.8,108.13 L449.3,108.71 L449.8,109.27 L450.3,109.82 L450.8,110.34 L451.3,110.85 L451.8,111.34 L452.3,111.81 L452.8,112.26 L453.3,112.70 L453.8,113.12 L454.3,113.51 L454.8,113.90 L455.3,114.26 L455.8,114.61 L456.3,114.94 L456.8,115.26 L457.3,115.56 L457.8,115.84 L458.3,116.11 L458.8,116.37 L459.3,116.61 L459.8,116.84 L460.3,117.06 L460.8,117.26 L461.3,117.45 L461.8,117.63 L462.3,117.80 L462.8,117.96 L463.3,118.11 L463.8,118.24 L464.3,118.37 L464.8,118.50 L465.3,118.61 L465.8,118.71 L466.3,118.81 L466.8,118.90 L467.3,118.98 L467.8,119.06 L468.3,119.13 L468.8,119.20 L469.3,119.26 L469.8,119.32 L470.3,119.37 L470.8,119.42 L471.3,119.46 L471.8,119.50 L472.3,119.54 L472.8,119.57 L473.3,119.61 L473.8,119.63 L474.3,119.66 L474.8,119.68 L475.3,119.71 L475.8,119.72 L476.3,119.74 L476.8,119.76 L477.3,119.77 L477.8,119.79 L478.3,119.80 L478.8,119.81 L479.3,119.82 L479.8,119.83 L480.3,119.84 L480.8,119.84 L481.3,119.85 L481.8,119.85 L482.3,119.86 L482.8,119.86 L483.3,119.87 L483.8,119.87 L484.3,119.88 L484.8,119.88 L485.3,119.88 L485.8,119.88 L486.3,119.89 L486.8,119.89 L487.3,119.89 L487.8,119.89 L488.3,119.89 L488.8,119.89 L489.3,119.89 L489.8,119.89 L490.3,119.89 L490.8,119.90 L491.3,119.90 L491.8,119.90 L492.3,119.90 L492.8,119.90 L493.3,119.90 L493.8,119.90 L494.3,119.90 L494.8,119.90 L495.3,119.90 L495.8,119.90 L496.3,119.90 L496.8,119.90 L497.3,119.90 L497.8,119.90 L498.3,119.90 L498.8,119.90 L499.3,119.90 L499.8,119.90 L500.3,119.90 L500.8,119.90 L501.3,119.90 L501.8,119.90 L502.3,119.90 L502.8,119.90 L503.3,119.90 L503.8,119.90 L504.3,119.90 L504.8,119.90 L505.3,119.90 L505.8,119.90 L506.3,119.90 L506.8,119.90 L507.3,119.90 L507.8,119.90 L508.3,119.90 L508.8,119.90 L509.3,119.90 L509.8,119.90 L510.3,119.90 L510.8,119.90 L511.3,119.90 L511.8,119.90 L512.3,119.90 L512.8,119.90 L513.3,119.90 L513.8,119.90" fill="none" stroke="#306c30" stroke-width="1.9" stroke-dasharray="8.5 6.5" stroke-dashoffset="13.0"/>
<rect x="364.3" y="15.2" width="149.99999999999994" height="120.8" fill="none" stroke="#111" stroke-width="1.4"/>
<line x1="364.30" y1="136.0" x2="364.30" y2="133.8" stroke="#222" stroke-width="1"/>
<text class="th" x="364.30" y="143.9" font-size="6.3" text-anchor="middle">528</text>
<line x1="383.05" y1="136.0" x2="383.05" y2="134.8" stroke="#222" stroke-width="1"/>
<line x1="401.80" y1="136.0" x2="401.80" y2="133.8" stroke="#222" stroke-width="1"/>
<text class="th" x="401.80" y="143.9" font-size="6.3" text-anchor="middle">530</text>
<line x1="420.55" y1="136.0" x2="420.55" y2="134.8" stroke="#222" stroke-width="1"/>
<line x1="439.30" y1="136.0" x2="439.30" y2="133.8" stroke="#222" stroke-width="1"/>
<text class="th" x="439.30" y="143.9" font-size="6.3" text-anchor="middle">532</text>
<line x1="458.05" y1="136.0" x2="458.05" y2="134.8" stroke="#222" stroke-width="1"/>
<line x1="476.80" y1="136.0" x2="476.80" y2="133.8" stroke="#222" stroke-width="1"/>
<text class="th" x="476.80" y="143.9" font-size="6.3" text-anchor="middle">534</text>
<line x1="495.55" y1="136.0" x2="495.55" y2="134.8" stroke="#222" stroke-width="1"/>
<line x1="514.30" y1="136.0" x2="514.30" y2="133.8" stroke="#222" stroke-width="1"/>
<text class="th" x="514.30" y="143.9" font-size="6.3" text-anchor="middle">536</text>
<text class="th2" transform="translate(391.2,153.9) scale(1,0.92)" font-size="10.25">Binding energy (eV)</text>
<text class="th2" transform="translate(357.5,75.8) rotate(-90) scale(1,0.9)" font-size="10.22" text-anchor="middle">Intensity (arb. units)</text>
<text transform="translate(351.0,14.8) scale(0.85,1)" font-size="23.5">c</text>
<line x1="421.1" y1="22.3" x2="436" y2="22.3" stroke="#ff00ff" stroke-width="1.8"/>
<line x1="421.1" y1="31.8" x2="428.90000000000003" y2="31.8" stroke="#2f6e2f" stroke-width="1.8"/>
<line x1="421.1" y1="40.5" x2="436" y2="40.5" stroke="#000" stroke-width="1.8"/>
<line x1="421.1" y1="48.1" x2="436" y2="48.1" stroke="#ee1a1a" stroke-width="1.8"/>
<line x1="421.1" y1="55.8" x2="436" y2="55.8" stroke="#1010ee" stroke-width="1.8"/>
<text class="th" x="437.5" y="24.36" font-size="6.25">0.030M ZnO/SnO<tspan font-size="3.88" dy="1.2">2</tspan><tspan dy="-1.2">-Original</tspan></text>
<text class="th" x="437.5" y="33.86" font-size="6.25">Combination</text>
<text class="th" x="437.5" y="42.56" font-size="6.25">O<tspan font-size="3.88" dy="-2.2">2-</tspan></text>
<text class="th" x="437.5" y="50.16" font-size="6.25">Ov</text>
<text class="th" x="437.5" y="57.86" font-size="6.25">-OH</text></g>
<defs>
<filter id="nz" x="0" y="0" width="1" height="1" color-interpolation-filters="sRGB">
<feTurbulence type="fractalNoise" baseFrequency="0.16" numOctaves="3" seed="11"/>
<feColorMatrix type="matrix" values="0 0 0 0 1  0 0 0 0 1  0 0 0 0 1  1.6 0 0 0 -0.76"/>
<feGaussianBlur stdDeviation="0.5"/>
</filter>
<filter id="nz2" x="0" y="0" width="1" height="1" color-interpolation-filters="sRGB">
<feTurbulence type="fractalNoise" baseFrequency="0.06" numOctaves="2" seed="5"/>
<feColorMatrix type="matrix" values="0 0 0 0 0  0 0 0 0 0  0 0 0 0 0  1.4 0 0 0 -0.7"/>
<feGaussianBlur stdDeviation="1"/>
</filter>
<filter id="bl" x="-1" y="-1" width="3" height="3"><feGaussianBlur stdDeviation="0.6"/></filter>
</defs>
<g><rect x="17.2" y="168" width="160.7" height="120.2" fill="#898989"/>
<rect x="17.2" y="168" width="160.7" height="120.2" fill="#fff" filter="url(#nz)" opacity="0.22"/>
<rect x="17.2" y="168" width="160.7" height="120.2" fill="#000" filter="url(#nz2)" opacity="0.25"/>
<rect x="17.2" y="168" width="1.2" height="120.2" fill="#7a7a7a"/>
<g fill="#bdbdbd" filter="url(#bl)" opacity="0.8"><ellipse cx="112.5" cy="173.2" rx="2.1" ry="1.2" transform="rotate(71 112.5 173.2)"/><ellipse cx="111.1" cy="171.5" rx="1.2" ry="0.8" opacity="0.7"/><ellipse cx="138.3" cy="170" rx="2.3" ry="1.7" transform="rotate(144 138.3 170)"/><ellipse cx="139.4" cy="168.9" rx="1.4" ry="1.2" opacity="0.7"/><ellipse cx="139.4" cy="187.6" rx="2.4" ry="1.3" transform="rotate(31 139.4 187.6)"/><ellipse cx="137.8" cy="186.5" rx="1.5" ry="0.9" opacity="0.7"/><ellipse cx="149.7" cy="188.7" rx="2.9" ry="1.7" transform="rotate(145 149.7 188.7)"/><ellipse cx="150.9" cy="187.5" rx="1.7" ry="1.2" opacity="0.7"/><ellipse cx="128" cy="194.9" rx="2.2" ry="1.5" transform="rotate(132 128 194.9)"/><ellipse cx="129.4" cy="196.4" rx="1.3" ry="1.1" opacity="0.7"/><ellipse cx="159" cy="201" rx="1.9" ry="1.5" transform="rotate(121 159 201)"/><ellipse cx="159.0" cy="199.7" rx="1.1" ry="1.1" opacity="0.7"/><ellipse cx="144.5" cy="206.2" rx="2.4" ry="1.2" transform="rotate(168 144.5 206.2)"/><ellipse cx="146.0" cy="206.4" rx="1.4" ry="0.8" opacity="0.7"/><ellipse cx="173.4" cy="199" rx="2.2" ry="1.7" transform="rotate(103 173.4 199)"/><ellipse cx="174.9" cy="200.4" rx="1.3" ry="1.2" opacity="0.7"/><ellipse cx="109.4" cy="223.8" rx="2.4" ry="1.4" transform="rotate(108 109.4 223.8)"/><ellipse cx="109.1" cy="222.4" rx="1.4" ry="1.0" opacity="0.7"/><ellipse cx="165.2" cy="176.3" rx="2.2" ry="1.7" transform="rotate(8 165.2 176.3)"/><ellipse cx="163.4" cy="176.8" rx="1.3" ry="1.2" opacity="0.7"/><ellipse cx="26.3" cy="181.4" rx="2.1" ry="1.5" transform="rotate(85 26.3 181.4)"/><ellipse cx="25.7" cy="183.4" rx="1.3" ry="1.0" opacity="0.7"/><ellipse cx="48" cy="172.1" rx="2.0" ry="1.4" transform="rotate(36 48 172.1)"/><ellipse cx="48.5" cy="171.2" rx="1.2" ry="1.0" opacity="0.7"/><ellipse cx="73.8" cy="199" rx="2.2" ry="1.6" transform="rotate(58 73.8 199)"/><ellipse cx="74.0" cy="200.6" rx="1.3" ry="1.1" opacity="0.7"/><ellipse cx="66.6" cy="187.6" rx="1.9" ry="1.1" transform="rotate(41 66.6 187.6)"/><ellipse cx="67.7" cy="188.1" rx="1.2" ry="0.8" opacity="0.7"/><ellipse cx="38.7" cy="216.6" rx="2.1" ry="1.3" transform="rotate(32 38.7 216.6)"/><ellipse cx="38.5" cy="214.8" rx="1.3" ry="0.9" opacity="0.7"/><ellipse cx="79" cy="223.8" rx="2.6" ry="1.7" transform="rotate(172 79 223.8)"/><ellipse cx="79.9" cy="225.6" rx="1.6" ry="1.2" opacity="0.7"/><ellipse cx="42.8" cy="247.6" rx="1.8" ry="1.3" transform="rotate(174 42.8 247.6)"/><ellipse cx="43.9" cy="247.2" rx="1.1" ry="0.9" opacity="0.7"/><ellipse cx="27.3" cy="259" rx="2.9" ry="1.5" transform="rotate(147 27.3 259)"/><ellipse cx="26.5" cy="257.8" rx="1.8" ry="1.1" opacity="0.7"/><ellipse cx="61.4" cy="252.8" rx="2.3" ry="1.2" transform="rotate(69 61.4 252.8)"/><ellipse cx="63.2" cy="252.1" rx="1.4" ry="0.8" opacity="0.7"/><ellipse cx="66.6" cy="249.7" rx="1.8" ry="1.1" transform="rotate(31 66.6 249.7)"/><ellipse cx="67.7" cy="249.2" rx="1.1" ry="0.8" opacity="0.7"/><ellipse cx="56.3" cy="269.3" rx="2.1" ry="1.2" transform="rotate(177 56.3 269.3)"/><ellipse cx="56.0" cy="268.1" rx="1.3" ry="0.8" opacity="0.7"/><ellipse cx="35.6" cy="275.5" rx="1.9" ry="1.1" transform="rotate(30 35.6 275.5)"/><ellipse cx="36.3" cy="274.1" rx="1.1" ry="0.8" opacity="0.7"/><ellipse cx="73.8" cy="271.4" rx="1.8" ry="1.4" transform="rotate(45 73.8 271.4)"/><ellipse cx="75.8" cy="269.9" rx="1.1" ry="1.0" opacity="0.7"/><ellipse cx="30.4" cy="230" rx="2.4" ry="1.6" transform="rotate(74 30.4 230)"/><ellipse cx="32.4" cy="229.9" rx="1.5" ry="1.1" opacity="0.7"/><ellipse cx="94.5" cy="234.2" rx="2.1" ry="1.4" transform="rotate(7 94.5 234.2)"/><ellipse cx="94.2" cy="233.2" rx="1.3" ry="1.0" opacity="0.7"/><ellipse cx="129" cy="236.3" rx="2.9" ry="1.7" transform="rotate(90 129 236.3)"/><ellipse cx="127.1" cy="235.3" rx="1.7" ry="1.2" opacity="0.7"/><ellipse cx="147.6" cy="245.6" rx="2.1" ry="1.2" transform="rotate(42 147.6 245.6)"/><ellipse cx="149.1" cy="244.2" rx="1.3" ry="0.9" opacity="0.7"/><ellipse cx="112.5" cy="265.2" rx="1.9" ry="1.7" transform="rotate(102 112.5 265.2)"/><ellipse cx="114.5" cy="264.8" rx="1.1" ry="1.2" opacity="0.7"/><ellipse cx="159" cy="251.8" rx="2.9" ry="1.6" transform="rotate(142 159 251.8)"/><ellipse cx="160.0" cy="251.8" rx="1.7" ry="1.1" opacity="0.7"/><ellipse cx="174.5" cy="247.6" rx="1.9" ry="1.2" transform="rotate(157 174.5 247.6)"/><ellipse cx="176.1" cy="249.3" rx="1.1" ry="0.9" opacity="0.7"/><ellipse cx="151.8" cy="282.8" rx="2.2" ry="1.6" transform="rotate(144 151.8 282.8)"/><ellipse cx="152.4" cy="284.1" rx="1.3" ry="1.1" opacity="0.7"/></g>
<g fill="#b0b0b0" filter="url(#bl)" opacity="0.55"><ellipse cx="101.9" cy="245.8" rx="2.0" ry="1.0" transform="rotate(166 101.9 245.8)"/><ellipse cx="168.1" cy="179.5" rx="2.4" ry="1.4" transform="rotate(120 168.1 179.5)"/><ellipse cx="27.1" cy="273.7" rx="1.4" ry="1.4" transform="rotate(120 27.1 273.7)"/><ellipse cx="29.6" cy="190.1" rx="2.0" ry="1.1" transform="rotate(134 29.6 190.1)"/><ellipse cx="163.7" cy="196.0" rx="1.2" ry="1.4" transform="rotate(2 163.7 196.0)"/><ellipse cx="155.8" cy="184.2" rx="2.2" ry="1.3" transform="rotate(158 155.8 184.2)"/><ellipse cx="105.4" cy="271.3" rx="1.4" ry="1.2" transform="rotate(60 105.4 271.3)"/><ellipse cx="158.2" cy="259.3" rx="1.8" ry="1.1" transform="rotate(5 158.2 259.3)"/><ellipse cx="25.5" cy="238.9" rx="1.8" ry="1.3" transform="rotate(109 25.5 238.9)"/><ellipse cx="41.7" cy="212.4" rx="2.1" ry="1.1" transform="rotate(2 41.7 212.4)"/><ellipse cx="149.8" cy="265.5" rx="1.3" ry="1.1" transform="rotate(69 149.8 265.5)"/><ellipse cx="142.0" cy="206.5" rx="1.5" ry="1.1" transform="rotate(174 142.0 206.5)"/><ellipse cx="34.9" cy="184.1" rx="1.9" ry="1.3" transform="rotate(92 34.9 184.1)"/><ellipse cx="87.3" cy="269.0" rx="2.1" ry="0.8" transform="rotate(159 87.3 269.0)"/><ellipse cx="50.5" cy="205.5" rx="2.2" ry="1.1" transform="rotate(144 50.5 205.5)"/><ellipse cx="46.1" cy="270.8" rx="1.4" ry="0.9" transform="rotate(89 46.1 270.8)"/><ellipse cx="72.6" cy="232.9" rx="2.3" ry="1.2" transform="rotate(1 72.6 232.9)"/><ellipse cx="68.4" cy="233.2" rx="1.8" ry="1.2" transform="rotate(87 68.4 233.2)"/><ellipse cx="31.9" cy="199.0" rx="2.2" ry="1.0" transform="rotate(138 31.9 199.0)"/><ellipse cx="172.7" cy="242.6" rx="2.0" ry="1.2" transform="rotate(56 172.7 242.6)"/><ellipse cx="161.4" cy="224.3" rx="2.3" ry="1.0" transform="rotate(156 161.4 224.3)"/><ellipse cx="141.9" cy="241.0" rx="1.7" ry="0.9" transform="rotate(139 141.9 241.0)"/><ellipse cx="76.2" cy="246.6" rx="1.4" ry="0.8" transform="rotate(26 76.2 246.6)"/><ellipse cx="145.4" cy="191.3" rx="2.3" ry="1.0" transform="rotate(104 145.4 191.3)"/><ellipse cx="74.4" cy="241.9" rx="1.3" ry="1.0" transform="rotate(169 74.4 241.9)"/><ellipse cx="48.0" cy="245.7" rx="1.6" ry="1.0" transform="rotate(4 48.0 245.7)"/><ellipse cx="23.3" cy="279.4" rx="2.2" ry="1.3" transform="rotate(145 23.3 279.4)"/><ellipse cx="167.7" cy="189.1" rx="1.9" ry="1.1" transform="rotate(103 167.7 189.1)"/><ellipse cx="165.3" cy="257.8" rx="2.4" ry="0.9" transform="rotate(117 165.3 257.8)"/><ellipse cx="124.7" cy="256.1" rx="1.9" ry="1.3" transform="rotate(55 124.7 256.1)"/><ellipse cx="163.7" cy="217.4" rx="1.9" ry="1.3" transform="rotate(127 163.7 217.4)"/><ellipse cx="68.1" cy="197.3" rx="1.6" ry="1.2" transform="rotate(179 68.1 197.3)"/><ellipse cx="159.3" cy="216.7" rx="1.7" ry="1.3" transform="rotate(51 159.3 216.7)"/><ellipse cx="83.9" cy="172.5" rx="1.4" ry="1.1" transform="rotate(125 83.9 172.5)"/></g>
<text transform="translate(12.8,161.6) scale(0.85,1)" font-size="23.5">d</text>
<text class="thw" x="35.2" y="189.6" font-size="12.3" fill="#fff">SnO<tspan font-size="7.63" dy="2.5">2</tspan></text>
<rect x="96.9" y="272.8" width="70.4" height="3.8" fill="#fff"/>
<text class="sans" x="134.2" y="266.3" font-size="9.9" fill="#fff" stroke="#fff" stroke-width="0.12" text-anchor="middle">5μm</text></g>
<g><rect x="187.0" y="168.6" width="160.8" height="120.1" fill="#898989"/>
<rect x="187.0" y="168.6" width="160.8" height="120.1" fill="#fff" filter="url(#nz)" opacity="0.22"/>
<rect x="187.0" y="168.6" width="160.8" height="120.1" fill="#000" filter="url(#nz2)" opacity="0.25"/>
<rect x="187.0" y="168.6" width="1.2" height="120.1" fill="#7a7a7a"/>
<g fill="#bdbdbd" filter="url(#bl)" opacity="0.8"><ellipse cx="203.5" cy="173.1" rx="2.5" ry="1.4" transform="rotate(171 203.5 173.1)"/><ellipse cx="204.0" cy="171.7" rx="1.5" ry="0.9" opacity="0.7"/><ellipse cx="236.6" cy="176.2" rx="1.9" ry="1.8" transform="rotate(178 236.6 176.2)"/><ellipse cx="238.3" cy="176.6" rx="1.1" ry="1.2" opacity="0.7"/><ellipse cx="253.1" cy="177.3" rx="2.2" ry="1.2" transform="rotate(46 253.1 177.3)"/><ellipse cx="252.0" cy="179.0" rx="1.3" ry="0.8" opacity="0.7"/><ellipse cx="189" cy="174.2" rx="2.9" ry="1.6" transform="rotate(27 189 174.2)"/><ellipse cx="188.0" cy="173.4" rx="1.7" ry="1.2" opacity="0.7"/><ellipse cx="209.7" cy="212.4" rx="2.9" ry="1.2" transform="rotate(142 209.7 212.4)"/><ellipse cx="210.4" cy="212.6" rx="1.8" ry="0.9" opacity="0.7"/><ellipse cx="237.6" cy="210.3" rx="3.0" ry="1.3" transform="rotate(94 237.6 210.3)"/><ellipse cx="236.2" cy="208.7" rx="1.8" ry="0.9" opacity="0.7"/><ellipse cx="242.8" cy="213.4" rx="1.8" ry="1.3" transform="rotate(22 242.8 213.4)"/><ellipse cx="241.0" cy="215.4" rx="1.1" ry="0.9" opacity="0.7"/><ellipse cx="215.9" cy="200" rx="2.1" ry="1.7" transform="rotate(126 215.9 200)"/><ellipse cx="216.8" cy="200.6" rx="1.3" ry="1.2" opacity="0.7"/><ellipse cx="258.3" cy="225.8" rx="2.9" ry="1.7" transform="rotate(129 258.3 225.8)"/><ellipse cx="258.5" cy="226.6" rx="1.8" ry="1.2" opacity="0.7"/><ellipse cx="335.2" cy="185.5" rx="2.7" ry="1.5" transform="rotate(90 335.2 185.5)"/><ellipse cx="333.8" cy="186.9" rx="1.6" ry="1.0" opacity="0.7"/><ellipse cx="337.2" cy="197.9" rx="2.4" ry="1.1" transform="rotate(30 337.2 197.9)"/><ellipse cx="338.7" cy="196.9" rx="1.4" ry="0.8" opacity="0.7"/><ellipse cx="341.4" cy="175.2" rx="2.3" ry="1.6" transform="rotate(155 341.4 175.2)"/><ellipse cx="340.7" cy="174.7" rx="1.4" ry="1.1" opacity="0.7"/><ellipse cx="282.5" cy="204.1" rx="2.3" ry="1.1" transform="rotate(158 282.5 204.1)"/><ellipse cx="280.6" cy="205.9" rx="1.4" ry="0.8" opacity="0.7"/><ellipse cx="295.9" cy="213.4" rx="2.0" ry="1.2" transform="rotate(153 295.9 213.4)"/><ellipse cx="297.2" cy="212.3" rx="1.2" ry="0.8" opacity="0.7"/><ellipse cx="311.4" cy="219.6" rx="2.5" ry="1.4" transform="rotate(129 311.4 219.6)"/><ellipse cx="310.1" cy="220.9" rx="1.5" ry="1.0" opacity="0.7"/><ellipse cx="279.4" cy="171" rx="3.0" ry="1.6" transform="rotate(166 279.4 171)"/><ellipse cx="281.1" cy="170.5" rx="1.8" ry="1.1" opacity="0.7"/><ellipse cx="213.9" cy="230.1" rx="2.8" ry="1.7" transform="rotate(106 213.9 230.1)"/><ellipse cx="212.3" cy="230.6" rx="1.7" ry="1.2" opacity="0.7"/><ellipse cx="219" cy="266.2" rx="2.9" ry="1.3" transform="rotate(116 219 266.2)"/><ellipse cx="220.6" cy="266.6" rx="1.7" ry="0.9" opacity="0.7"/><ellipse cx="212.8" cy="261.1" rx="1.8" ry="1.5" transform="rotate(46 212.8 261.1)"/><ellipse cx="214.2" cy="261.7" rx="1.1" ry="1.1" opacity="0.7"/><ellipse cx="259.3" cy="267.3" rx="2.2" ry="1.7" transform="rotate(113 259.3 267.3)"/><ellipse cx="258.7" cy="268.6" rx="1.3" ry="1.2" opacity="0.7"/><ellipse cx="190.1" cy="231.1" rx="2.9" ry="1.7" transform="rotate(159 190.1 231.1)"/><ellipse cx="190.7" cy="231.9" rx="1.7" ry="1.2" opacity="0.7"/><ellipse cx="293.9" cy="237.3" rx="2.5" ry="1.5" transform="rotate(178 293.9 237.3)"/><ellipse cx="293.3" cy="235.6" rx="1.5" ry="1.0" opacity="0.7"/><ellipse cx="323.8" cy="239.4" rx="2.7" ry="1.4" transform="rotate(98 323.8 239.4)"/><ellipse cx="324.2" cy="238.4" rx="1.6" ry="1.0" opacity="0.7"/><ellipse cx="324.9" cy="255.9" rx="2.0" ry="1.1" transform="rotate(141 324.9 255.9)"/><ellipse cx="326.5" cy="256.7" rx="1.2" ry="0.8" opacity="0.7"/><ellipse cx="281.5" cy="267.3" rx="1.9" ry="1.8" transform="rotate(149 281.5 267.3)"/><ellipse cx="281.5" cy="265.3" rx="1.2" ry="1.2" opacity="0.7"/><ellipse cx="310.4" cy="283.8" rx="2.8" ry="1.5" transform="rotate(112 310.4 283.8)"/><ellipse cx="308.5" cy="284.7" rx="1.7" ry="1.1" opacity="0.7"/><ellipse cx="341.4" cy="270.4" rx="1.8" ry="1.4" transform="rotate(26 341.4 270.4)"/><ellipse cx="340.8" cy="272.0" rx="1.1" ry="1.0" opacity="0.7"/><ellipse cx="328" cy="231.1" rx="2.7" ry="1.7" transform="rotate(54 328 231.1)"/><ellipse cx="327.6" cy="231.5" rx="1.6" ry="1.2" opacity="0.7"/></g>
<g fill="#b0b0b0" filter="url(#bl)" opacity="0.55"><ellipse cx="195.3" cy="218.6" rx="2.4" ry="1.3" transform="rotate(155 195.3 218.6)"/><ellipse cx="236.2" cy="250.4" rx="2.1" ry="1.2" transform="rotate(79 236.2 250.4)"/><ellipse cx="217.1" cy="173.6" rx="2.3" ry="1.4" transform="rotate(50 217.1 173.6)"/><ellipse cx="307.0" cy="218.1" rx="2.0" ry="1.3" transform="rotate(58 307.0 218.1)"/><ellipse cx="286.0" cy="200.8" rx="1.8" ry="0.8" transform="rotate(47 286.0 200.8)"/><ellipse cx="234.5" cy="275.9" rx="1.4" ry="1.3" transform="rotate(16 234.5 275.9)"/><ellipse cx="342.7" cy="190.5" rx="1.3" ry="0.9" transform="rotate(168 342.7 190.5)"/><ellipse cx="293.5" cy="273.2" rx="1.8" ry="0.9" transform="rotate(61 293.5 273.2)"/><ellipse cx="260.5" cy="284.6" rx="1.4" ry="0.9" transform="rotate(152 260.5 284.6)"/><ellipse cx="207.6" cy="282.4" rx="1.6" ry="1.1" transform="rotate(119 207.6 282.4)"/><ellipse cx="330.4" cy="180.2" rx="2.2" ry="0.9" transform="rotate(129 330.4 180.2)"/><ellipse cx="194.2" cy="259.1" rx="1.4" ry="0.9" transform="rotate(6 194.2 259.1)"/><ellipse cx="240.2" cy="209.0" rx="2.4" ry="1.2" transform="rotate(66 240.2 209.0)"/><ellipse cx="343.3" cy="191.2" rx="1.5" ry="1.4" transform="rotate(171 343.3 191.2)"/><ellipse cx="295.9" cy="283.3" rx="1.3" ry="1.3" transform="rotate(127 295.9 283.3)"/><ellipse cx="293.4" cy="267.8" rx="1.3" ry="0.9" transform="rotate(25 293.4 267.8)"/><ellipse cx="264.1" cy="233.9" rx="1.8" ry="1.0" transform="rotate(134 264.1 233.9)"/><ellipse cx="319.8" cy="258.1" rx="1.2" ry="0.9" transform="rotate(39 319.8 258.1)"/><ellipse cx="226.9" cy="237.1" rx="1.4" ry="1.2" transform="rotate(62 226.9 237.1)"/><ellipse cx="246.3" cy="252.4" rx="2.3" ry="0.9" transform="rotate(63 246.3 252.4)"/><ellipse cx="341.9" cy="195.9" rx="1.2" ry="0.9" transform="rotate(149 341.9 195.9)"/><ellipse cx="303.2" cy="278.7" rx="1.8" ry="0.8" transform="rotate(55 303.2 278.7)"/><ellipse cx="301.3" cy="216.4" rx="1.4" ry="1.0" transform="rotate(83 301.3 216.4)"/><ellipse cx="245.1" cy="222.5" rx="1.4" ry="0.8" transform="rotate(141 245.1 222.5)"/><ellipse cx="303.4" cy="219.3" rx="1.3" ry="1.0" transform="rotate(100 303.4 219.3)"/><ellipse cx="328.5" cy="226.6" rx="2.4" ry="1.1" transform="rotate(33 328.5 226.6)"/><ellipse cx="285.2" cy="240.1" rx="1.9" ry="1.2" transform="rotate(4 285.2 240.1)"/><ellipse cx="257.6" cy="262.9" rx="1.4" ry="0.8" transform="rotate(33 257.6 262.9)"/><ellipse cx="234.2" cy="221.3" rx="1.6" ry="1.2" transform="rotate(31 234.2 221.3)"/><ellipse cx="243.5" cy="248.7" rx="1.9" ry="1.4" transform="rotate(169 243.5 248.7)"/><ellipse cx="229.9" cy="209.8" rx="1.8" ry="1.1" transform="rotate(66 229.9 209.8)"/><ellipse cx="323.5" cy="194.1" rx="1.8" ry="0.9" transform="rotate(159 323.5 194.1)"/><ellipse cx="282.2" cy="284.3" rx="1.4" ry="1.2" transform="rotate(107 282.2 284.3)"/><ellipse cx="198.0" cy="265.2" rx="2.2" ry="0.8" transform="rotate(170 198.0 265.2)"/></g>
<text transform="translate(180.7,162.3) scale(0.85,1)" font-size="23.5">e</text>
<text class="thw" x="208.1" y="193" font-size="12.3" fill="#fff">0.025 M ZnO/SnO<tspan font-size="7.63" dy="2.5">2</tspan></text>
<rect x="266.9" y="272.8" width="70.60000000000002" height="3.8" fill="#fff"/>
<text class="sans" x="300.6" y="266.1" font-size="9.9" fill="#fff" stroke="#fff" stroke-width="0.12" text-anchor="middle">5μm</text></g>
<g><rect x="354.1" y="167.9" width="160.7" height="120.3" fill="#898989"/>
<rect x="354.1" y="167.9" width="160.7" height="120.3" fill="#fff" filter="url(#nz)" opacity="0.22"/>
<rect x="354.1" y="167.9" width="160.7" height="120.3" fill="#000" filter="url(#nz2)" opacity="0.25"/>
<rect x="354.1" y="167.9" width="1.2" height="120.3" fill="#7a7a7a"/>
<g fill="#bdbdbd" filter="url(#bl)" opacity="0.8"><ellipse cx="396.4" cy="195.9" rx="2.7" ry="1.5" transform="rotate(98 396.4 195.9)"/><ellipse cx="395.5" cy="194.1" rx="1.6" ry="1.1" opacity="0.7"/><ellipse cx="372.6" cy="205.2" rx="2.4" ry="1.7" transform="rotate(38 372.6 205.2)"/><ellipse cx="372.5" cy="204.3" rx="1.4" ry="1.2" opacity="0.7"/><ellipse cx="357.1" cy="204.2" rx="2.6" ry="1.8" transform="rotate(160 357.1 204.2)"/><ellipse cx="356.3" cy="203.9" rx="1.6" ry="1.2" opacity="0.7"/><ellipse cx="408.8" cy="205.2" rx="1.8" ry="1.5" transform="rotate(154 408.8 205.2)"/><ellipse cx="410.2" cy="203.5" rx="1.1" ry="1.0" opacity="0.7"/><ellipse cx="420.1" cy="212.4" rx="2.3" ry="1.2" transform="rotate(76 420.1 212.4)"/><ellipse cx="421.8" cy="211.5" rx="1.4" ry="0.8" opacity="0.7"/><ellipse cx="500.1" cy="182.5" rx="2.8" ry="1.8" transform="rotate(147 500.1 182.5)"/><ellipse cx="498.9" cy="184.2" rx="1.7" ry="1.2" opacity="0.7"/><ellipse cx="475.3" cy="183.5" rx="2.9" ry="1.8" transform="rotate(2 475.3 183.5)"/><ellipse cx="473.3" cy="182.7" rx="1.7" ry="1.3" opacity="0.7"/><ellipse cx="437.1" cy="208.3" rx="2.4" ry="1.4" transform="rotate(17 437.1 208.3)"/><ellipse cx="437.7" cy="209.0" rx="1.5" ry="1.0" opacity="0.7"/><ellipse cx="504.2" cy="223.8" rx="2.6" ry="1.5" transform="rotate(99 504.2 223.8)"/><ellipse cx="505.0" cy="222.1" rx="1.5" ry="1.0" opacity="0.7"/><ellipse cx="481.5" cy="215.5" rx="2.3" ry="1.2" transform="rotate(19 481.5 215.5)"/><ellipse cx="482.5" cy="214.8" rx="1.4" ry="0.8" opacity="0.7"/><ellipse cx="367.4" cy="236.3" rx="2.2" ry="1.3" transform="rotate(106 367.4 236.3)"/><ellipse cx="365.9" cy="236.9" rx="1.3" ry="0.9" opacity="0.7"/><ellipse cx="377.8" cy="249.7" rx="1.9" ry="1.8" transform="rotate(28 377.8 249.7)"/><ellipse cx="378.9" cy="249.9" rx="1.1" ry="1.2" opacity="0.7"/><ellipse cx="404.6" cy="258" rx="2.3" ry="1.3" transform="rotate(65 404.6 258)"/><ellipse cx="405.6" cy="258.1" rx="1.4" ry="0.9" opacity="0.7"/><ellipse cx="372.6" cy="280.7" rx="2.4" ry="1.3" transform="rotate(112 372.6 280.7)"/><ellipse cx="371.3" cy="280.6" rx="1.5" ry="0.9" opacity="0.7"/><ellipse cx="373.6" cy="256.9" rx="2.6" ry="1.5" transform="rotate(105 373.6 256.9)"/><ellipse cx="373.9" cy="255.7" rx="1.5" ry="1.0" opacity="0.7"/><ellipse cx="454.7" cy="236.3" rx="2.9" ry="1.6" transform="rotate(131 454.7 236.3)"/><ellipse cx="456.5" cy="236.1" rx="1.8" ry="1.1" opacity="0.7"/><ellipse cx="495" cy="265.2" rx="2.2" ry="1.3" transform="rotate(57 495 265.2)"/><ellipse cx="494.2" cy="264.5" rx="1.3" ry="0.9" opacity="0.7"/><ellipse cx="468.1" cy="272.4" rx="2.1" ry="1.4" transform="rotate(53 468.1 272.4)"/><ellipse cx="467.6" cy="273.1" rx="1.2" ry="1.0" opacity="0.7"/><ellipse cx="504.2" cy="231.1" rx="2.2" ry="1.7" transform="rotate(144 504.2 231.1)"/><ellipse cx="503.5" cy="232.4" rx="1.3" ry="1.2" opacity="0.7"/></g>
<g fill="#b0b0b0" filter="url(#bl)" opacity="0.55"><ellipse cx="384.4" cy="181.9" rx="2.4" ry="0.8" transform="rotate(1 384.4 181.9)"/><ellipse cx="491.2" cy="171.2" rx="2.0" ry="1.1" transform="rotate(40 491.2 171.2)"/><ellipse cx="395.1" cy="281.4" rx="1.7" ry="0.9" transform="rotate(79 395.1 281.4)"/><ellipse cx="470.4" cy="204.1" rx="1.3" ry="1.3" transform="rotate(17 470.4 204.1)"/><ellipse cx="365.7" cy="171.4" rx="2.4" ry="1.1" transform="rotate(133 365.7 171.4)"/><ellipse cx="443.4" cy="282.3" rx="1.6" ry="1.0" transform="rotate(123 443.4 282.3)"/><ellipse cx="357.2" cy="212.5" rx="2.1" ry="1.1" transform="rotate(88 357.2 212.5)"/><ellipse cx="502.0" cy="220.4" rx="2.1" ry="1.0" transform="rotate(16 502.0 220.4)"/><ellipse cx="417.1" cy="195.0" rx="1.2" ry="1.0" transform="rotate(23 417.1 195.0)"/><ellipse cx="427.7" cy="255.2" rx="2.1" ry="1.3" transform="rotate(57 427.7 255.2)"/><ellipse cx="460.7" cy="272.5" rx="1.7" ry="1.3" transform="rotate(19 460.7 272.5)"/><ellipse cx="499.6" cy="271.6" rx="2.4" ry="1.3" transform="rotate(128 499.6 271.6)"/><ellipse cx="424.4" cy="252.9" rx="2.3" ry="1.1" transform="rotate(112 424.4 252.9)"/><ellipse cx="500.1" cy="203.4" rx="1.6" ry="0.8" transform="rotate(158 500.1 203.4)"/><ellipse cx="454.5" cy="247.8" rx="1.5" ry="0.9" transform="rotate(86 454.5 247.8)"/><ellipse cx="492.8" cy="211.4" rx="1.7" ry="1.1" transform="rotate(152 492.8 211.4)"/><ellipse cx="376.3" cy="269.8" rx="1.2" ry="1.2" transform="rotate(137 376.3 269.8)"/><ellipse cx="429.7" cy="255.7" rx="1.5" ry="0.9" transform="rotate(65 429.7 255.7)"/><ellipse cx="398.1" cy="252.8" rx="1.9" ry="1.2" transform="rotate(176 398.1 252.8)"/><ellipse cx="476.7" cy="261.4" rx="2.4" ry="1.4" transform="rotate(133 476.7 261.4)"/><ellipse cx="410.9" cy="229.0" rx="2.1" ry="1.3" transform="rotate(162 410.9 229.0)"/><ellipse cx="471.9" cy="247.3" rx="1.5" ry="1.2" transform="rotate(34 471.9 247.3)"/><ellipse cx="457.2" cy="191.0" rx="1.2" ry="1.4" transform="rotate(157 457.2 191.0)"/><ellipse cx="404.3" cy="176.0" rx="2.2" ry="1.3" transform="rotate(28 404.3 176.0)"/><ellipse cx="483.5" cy="266.7" rx="1.9" ry="1.0" transform="rotate(10 483.5 266.7)"/><ellipse cx="366.9" cy="221.3" rx="2.1" ry="1.2" transform="rotate(40 366.9 221.3)"/><ellipse cx="480.6" cy="178.1" rx="1.9" ry="0.9" transform="rotate(1 480.6 178.1)"/><ellipse cx="387.0" cy="261.9" rx="1.5" ry="0.8" transform="rotate(87 387.0 261.9)"/><ellipse cx="411.1" cy="236.5" rx="1.9" ry="1.2" transform="rotate(165 411.1 236.5)"/><ellipse cx="409.4" cy="243.5" rx="1.3" ry="1.0" transform="rotate(17 409.4 243.5)"/><ellipse cx="490.5" cy="209.5" rx="2.1" ry="1.3" transform="rotate(69 490.5 209.5)"/><ellipse cx="389.1" cy="199.3" rx="1.8" ry="1.0" transform="rotate(13 389.1 199.3)"/><ellipse cx="488.7" cy="244.0" rx="2.2" ry="1.3" transform="rotate(131 488.7 244.0)"/><ellipse cx="484.6" cy="251.3" rx="1.7" ry="1.3" transform="rotate(165 484.6 251.3)"/></g>
<text transform="translate(359.0,161.9) scale(0.85,1)" font-size="23.5">f</text>
<text class="thw" x="370.4" y="189.6" font-size="12.0" fill="#fff">0.030 M ZnO/SnO<tspan font-size="7.44" dy="2.5">2</tspan></text>
<rect x="434.6" y="272.2" width="70.0" height="3.8" fill="#fff"/>
<text class="sans" x="469.1" y="265.6" font-size="9.9" fill="#fff" stroke="#fff" stroke-width="0.12" text-anchor="middle">5μm</text></g>
</g></svg>
</body></html>
